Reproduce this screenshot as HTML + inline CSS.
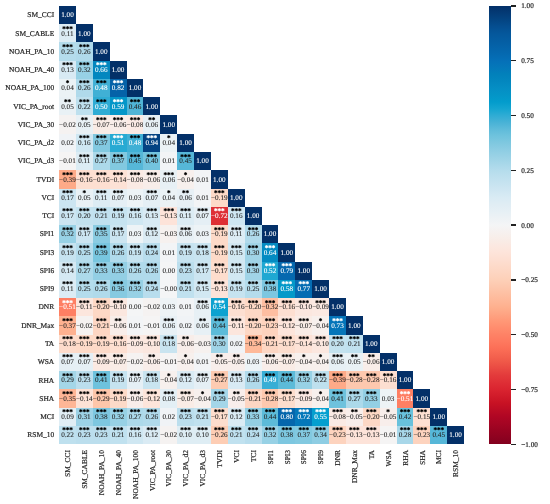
<!DOCTYPE html>
<html><head><meta charset="utf-8"><style>
html,body{margin:0;padding:0;background:#fff;}
body{width:550px;height:504px;position:relative;overflow:hidden;font-family:"Liberation Serif","Times New Roman",serif;text-rendering:geometricPrecision;-webkit-text-stroke:0.2px currentColor;}
.c{position:absolute;}
.n,.s{position:absolute;white-space:nowrap;text-align:center;line-height:1;}
.n{font-size:7.2px;-webkit-text-stroke:0.08px currentColor;}
.s{font-size:7.0px;color:#000;font-weight:normal;letter-spacing:0px;-webkit-text-stroke:0.4px currentColor;}
.w{color:#fff;}
.d{color:#262626;}
.yl{position:absolute;right:495.8px;font-size:7.45px;line-height:1;white-space:nowrap;color:#262626;}
.xl{position:absolute;font-size:7.45px;line-height:1;white-space:nowrap;color:#262626;transform-origin:0 0;transform:rotate(-90deg) translateX(-100%);}
.tk{position:absolute;height:1.3px;background:#222;}
.cl{position:absolute;font-size:7.2px;line-height:1;white-space:nowrap;color:#262626;}
</style></head><body>

<div class="c" style="left:59.000px;top:5.910px;width:16.875px;height:18.260px;background:#033068"></div>
<div class="n w" style="left:67.44px;top:15.84px;width:30px;margin-left:-15px;margin-top:-3.60px">1.00</div>
<div class="c" style="left:59.000px;top:24.170px;width:16.875px;height:18.260px;background:#dcecf4"></div>
<div class="n d" style="left:67.44px;top:34.10px;width:30px;margin-left:-15px;margin-top:-3.60px">0.11</div>
<div class="s" style="left:67.44px;top:29.20px;width:30px;margin-left:-15px;margin-top:-3.50px">***</div>
<div class="c" style="left:75.875px;top:24.170px;width:16.875px;height:18.260px;background:#033068"></div>
<div class="n w" style="left:84.31px;top:34.10px;width:30px;margin-left:-15px;margin-top:-3.60px">1.00</div>
<div class="c" style="left:59.000px;top:42.430px;width:16.875px;height:18.260px;background:#b4dcec"></div>
<div class="n d" style="left:67.44px;top:52.36px;width:30px;margin-left:-15px;margin-top:-3.60px">0.25</div>
<div class="s" style="left:67.44px;top:47.46px;width:30px;margin-left:-15px;margin-top:-3.50px">***</div>
<div class="c" style="left:75.875px;top:42.430px;width:16.875px;height:18.260px;background:#b0daeb"></div>
<div class="n d" style="left:84.31px;top:52.36px;width:30px;margin-left:-15px;margin-top:-3.60px">0.26</div>
<div class="s" style="left:84.31px;top:47.46px;width:30px;margin-left:-15px;margin-top:-3.50px">***</div>
<div class="c" style="left:92.750px;top:42.430px;width:16.875px;height:18.260px;background:#033068"></div>
<div class="n w" style="left:101.19px;top:52.36px;width:30px;margin-left:-15px;margin-top:-3.60px">1.00</div>
<div class="c" style="left:59.000px;top:60.690px;width:16.875px;height:18.260px;background:#d8eaf4"></div>
<div class="n d" style="left:67.44px;top:70.62px;width:30px;margin-left:-15px;margin-top:-3.60px">0.13</div>
<div class="s" style="left:67.44px;top:65.72px;width:30px;margin-left:-15px;margin-top:-3.50px">***</div>
<div class="c" style="left:75.875px;top:60.690px;width:16.875px;height:18.260px;background:#97d1e5"></div>
<div class="n d" style="left:84.31px;top:70.62px;width:30px;margin-left:-15px;margin-top:-3.60px">0.32</div>
<div class="s" style="left:84.31px;top:65.72px;width:30px;margin-left:-15px;margin-top:-3.50px">***</div>
<div class="c" style="left:92.750px;top:60.690px;width:16.875px;height:18.260px;background:#0387bf"></div>
<div class="n w" style="left:101.19px;top:70.62px;width:30px;margin-left:-15px;margin-top:-3.60px">0.66</div>
<div class="s w" style="left:101.19px;top:65.72px;width:30px;margin-left:-15px;margin-top:-3.50px">***</div>
<div class="c" style="left:109.625px;top:60.690px;width:16.875px;height:18.260px;background:#033068"></div>
<div class="n w" style="left:118.06px;top:70.62px;width:30px;margin-left:-15px;margin-top:-3.60px">1.00</div>
<div class="c" style="left:59.000px;top:78.950px;width:16.875px;height:18.260px;background:#ebf2f5"></div>
<div class="n d" style="left:67.44px;top:88.88px;width:30px;margin-left:-15px;margin-top:-3.60px">0.04</div>
<div class="s" style="left:67.44px;top:83.98px;width:30px;margin-left:-15px;margin-top:-3.50px">*</div>
<div class="c" style="left:75.875px;top:78.950px;width:16.875px;height:18.260px;background:#b0daeb"></div>
<div class="n d" style="left:84.31px;top:88.88px;width:30px;margin-left:-15px;margin-top:-3.60px">0.26</div>
<div class="s" style="left:84.31px;top:83.98px;width:30px;margin-left:-15px;margin-top:-3.50px">***</div>
<div class="c" style="left:92.750px;top:78.950px;width:16.875px;height:18.260px;background:#40b0d5"></div>
<div class="n w" style="left:101.19px;top:88.88px;width:30px;margin-left:-15px;margin-top:-3.60px">0.48</div>
<div class="s" style="left:101.19px;top:83.98px;width:30px;margin-left:-15px;margin-top:-3.50px">***</div>
<div class="c" style="left:109.625px;top:78.950px;width:16.875px;height:18.260px;background:#0562a8"></div>
<div class="n w" style="left:118.06px;top:88.88px;width:30px;margin-left:-15px;margin-top:-3.60px">0.82</div>
<div class="s w" style="left:118.06px;top:83.98px;width:30px;margin-left:-15px;margin-top:-3.50px">***</div>
<div class="c" style="left:126.500px;top:78.950px;width:16.875px;height:18.260px;background:#033068"></div>
<div class="n w" style="left:134.94px;top:88.88px;width:30px;margin-left:-15px;margin-top:-3.60px">1.00</div>
<div class="c" style="left:59.000px;top:97.210px;width:16.875px;height:18.260px;background:#e9f1f5"></div>
<div class="n d" style="left:67.44px;top:107.14px;width:30px;margin-left:-15px;margin-top:-3.60px">0.05</div>
<div class="s" style="left:67.44px;top:102.24px;width:30px;margin-left:-15px;margin-top:-3.50px">**</div>
<div class="c" style="left:75.875px;top:97.210px;width:16.875px;height:18.260px;background:#bee0ee"></div>
<div class="n d" style="left:84.31px;top:107.14px;width:30px;margin-left:-15px;margin-top:-3.60px">0.22</div>
<div class="s" style="left:84.31px;top:102.24px;width:30px;margin-left:-15px;margin-top:-3.50px">***</div>
<div class="c" style="left:92.750px;top:97.210px;width:16.875px;height:18.260px;background:#2facd4"></div>
<div class="n w" style="left:101.19px;top:107.14px;width:30px;margin-left:-15px;margin-top:-3.60px">0.50</div>
<div class="s" style="left:101.19px;top:102.24px;width:30px;margin-left:-15px;margin-top:-3.50px">***</div>
<div class="c" style="left:109.625px;top:97.210px;width:16.875px;height:18.260px;background:#0496c8"></div>
<div class="n w" style="left:118.06px;top:107.14px;width:30px;margin-left:-15px;margin-top:-3.60px">0.59</div>
<div class="s w" style="left:118.06px;top:102.24px;width:30px;margin-left:-15px;margin-top:-3.50px">***</div>
<div class="c" style="left:126.500px;top:97.210px;width:16.875px;height:18.260px;background:#50b4d6"></div>
<div class="n d" style="left:134.94px;top:107.14px;width:30px;margin-left:-15px;margin-top:-3.60px">0.46</div>
<div class="s" style="left:134.94px;top:102.24px;width:30px;margin-left:-15px;margin-top:-3.50px">***</div>
<div class="c" style="left:143.375px;top:97.210px;width:16.875px;height:18.260px;background:#033068"></div>
<div class="n w" style="left:151.81px;top:107.14px;width:30px;margin-left:-15px;margin-top:-3.60px">1.00</div>
<div class="c" style="left:59.000px;top:115.470px;width:16.875px;height:18.260px;background:#f5f2f1"></div>
<div class="n d" style="left:67.44px;top:125.40px;width:30px;margin-left:-15px;margin-top:-3.60px">−0.02</div>
<div class="c" style="left:75.875px;top:115.470px;width:16.875px;height:18.260px;background:#e9f1f5"></div>
<div class="n d" style="left:84.31px;top:125.40px;width:30px;margin-left:-15px;margin-top:-3.60px">0.05</div>
<div class="s" style="left:84.31px;top:120.50px;width:30px;margin-left:-15px;margin-top:-3.50px">**</div>
<div class="c" style="left:92.750px;top:115.470px;width:16.875px;height:18.260px;background:#f9ece6"></div>
<div class="n d" style="left:101.19px;top:125.40px;width:30px;margin-left:-15px;margin-top:-3.60px">−0.07</div>
<div class="s" style="left:101.19px;top:120.50px;width:30px;margin-left:-15px;margin-top:-3.50px">***</div>
<div class="c" style="left:109.625px;top:115.470px;width:16.875px;height:18.260px;background:#f8ede9"></div>
<div class="n d" style="left:118.06px;top:125.40px;width:30px;margin-left:-15px;margin-top:-3.60px">−0.06</div>
<div class="s" style="left:118.06px;top:120.50px;width:30px;margin-left:-15px;margin-top:-3.50px">***</div>
<div class="c" style="left:126.500px;top:115.470px;width:16.875px;height:18.260px;background:#faeae4"></div>
<div class="n d" style="left:134.94px;top:125.40px;width:30px;margin-left:-15px;margin-top:-3.60px">−0.08</div>
<div class="s" style="left:134.94px;top:120.50px;width:30px;margin-left:-15px;margin-top:-3.50px">***</div>
<div class="c" style="left:143.375px;top:115.470px;width:16.875px;height:18.260px;background:#e7f0f5"></div>
<div class="n d" style="left:151.81px;top:125.40px;width:30px;margin-left:-15px;margin-top:-3.60px">0.06</div>
<div class="s" style="left:151.81px;top:120.50px;width:30px;margin-left:-15px;margin-top:-3.50px">**</div>
<div class="c" style="left:160.250px;top:115.470px;width:16.875px;height:18.260px;background:#033068"></div>
<div class="n w" style="left:168.69px;top:125.40px;width:30px;margin-left:-15px;margin-top:-3.60px">1.00</div>
<div class="c" style="left:59.000px;top:133.730px;width:16.875px;height:18.260px;background:#f0f3f6"></div>
<div class="n d" style="left:67.44px;top:143.66px;width:30px;margin-left:-15px;margin-top:-3.60px">0.02</div>
<div class="c" style="left:75.875px;top:133.730px;width:16.875px;height:18.260px;background:#cfe7f2"></div>
<div class="n d" style="left:84.31px;top:143.66px;width:30px;margin-left:-15px;margin-top:-3.60px">0.16</div>
<div class="s" style="left:84.31px;top:138.76px;width:30px;margin-left:-15px;margin-top:-3.50px">***</div>
<div class="c" style="left:92.750px;top:133.730px;width:16.875px;height:18.260px;background:#82c9e0"></div>
<div class="n d" style="left:101.19px;top:143.66px;width:30px;margin-left:-15px;margin-top:-3.60px">0.37</div>
<div class="s" style="left:101.19px;top:138.76px;width:30px;margin-left:-15px;margin-top:-3.50px">***</div>
<div class="c" style="left:109.625px;top:133.730px;width:16.875px;height:18.260px;background:#27aad3"></div>
<div class="n w" style="left:118.06px;top:143.66px;width:30px;margin-left:-15px;margin-top:-3.60px">0.51</div>
<div class="s w" style="left:118.06px;top:138.76px;width:30px;margin-left:-15px;margin-top:-3.50px">***</div>
<div class="c" style="left:126.500px;top:133.730px;width:16.875px;height:18.260px;background:#40b0d5"></div>
<div class="n w" style="left:134.94px;top:143.66px;width:30px;margin-left:-15px;margin-top:-3.60px">0.48</div>
<div class="s" style="left:134.94px;top:138.76px;width:30px;margin-left:-15px;margin-top:-3.50px">***</div>
<div class="c" style="left:143.375px;top:133.730px;width:16.875px;height:18.260px;background:#044382"></div>
<div class="n w" style="left:151.81px;top:143.66px;width:30px;margin-left:-15px;margin-top:-3.60px">0.94</div>
<div class="s w" style="left:151.81px;top:138.76px;width:30px;margin-left:-15px;margin-top:-3.50px">***</div>
<div class="c" style="left:160.250px;top:133.730px;width:16.875px;height:18.260px;background:#ebf2f5"></div>
<div class="n d" style="left:168.69px;top:143.66px;width:30px;margin-left:-15px;margin-top:-3.60px">0.04</div>
<div class="s" style="left:168.69px;top:138.76px;width:30px;margin-left:-15px;margin-top:-3.50px">*</div>
<div class="c" style="left:177.125px;top:133.730px;width:16.875px;height:18.260px;background:#033068"></div>
<div class="n w" style="left:185.56px;top:143.66px;width:30px;margin-left:-15px;margin-top:-3.60px">1.00</div>
<div class="c" style="left:59.000px;top:151.990px;width:16.875px;height:18.260px;background:#f5f4f4"></div>
<div class="n d" style="left:67.44px;top:161.92px;width:30px;margin-left:-15px;margin-top:-3.60px">−0.01</div>
<div class="c" style="left:75.875px;top:151.990px;width:16.875px;height:18.260px;background:#dcecf4"></div>
<div class="n d" style="left:84.31px;top:161.92px;width:30px;margin-left:-15px;margin-top:-3.60px">0.11</div>
<div class="s" style="left:84.31px;top:157.02px;width:30px;margin-left:-15px;margin-top:-3.50px">***</div>
<div class="c" style="left:92.750px;top:151.990px;width:16.875px;height:18.260px;background:#acd9ea"></div>
<div class="n d" style="left:101.19px;top:161.92px;width:30px;margin-left:-15px;margin-top:-3.60px">0.27</div>
<div class="s" style="left:101.19px;top:157.02px;width:30px;margin-left:-15px;margin-top:-3.50px">***</div>
<div class="c" style="left:109.625px;top:151.990px;width:16.875px;height:18.260px;background:#82c9e0"></div>
<div class="n d" style="left:118.06px;top:161.92px;width:30px;margin-left:-15px;margin-top:-3.60px">0.37</div>
<div class="s" style="left:118.06px;top:157.02px;width:30px;margin-left:-15px;margin-top:-3.50px">***</div>
<div class="c" style="left:126.500px;top:151.990px;width:16.875px;height:18.260px;background:#56b7d8"></div>
<div class="n d" style="left:134.94px;top:161.92px;width:30px;margin-left:-15px;margin-top:-3.60px">0.45</div>
<div class="s" style="left:134.94px;top:157.02px;width:30px;margin-left:-15px;margin-top:-3.50px">***</div>
<div class="c" style="left:143.375px;top:151.990px;width:16.875px;height:18.260px;background:#73c4de"></div>
<div class="n d" style="left:151.81px;top:161.92px;width:30px;margin-left:-15px;margin-top:-3.60px">0.40</div>
<div class="s" style="left:151.81px;top:157.02px;width:30px;margin-left:-15px;margin-top:-3.50px">***</div>
<div class="c" style="left:160.250px;top:151.990px;width:16.875px;height:18.260px;background:#f2f4f6"></div>
<div class="n d" style="left:168.69px;top:161.92px;width:30px;margin-left:-15px;margin-top:-3.60px">0.01</div>
<div class="c" style="left:177.125px;top:151.990px;width:16.875px;height:18.260px;background:#56b7d8"></div>
<div class="n d" style="left:185.56px;top:161.92px;width:30px;margin-left:-15px;margin-top:-3.60px">0.45</div>
<div class="s" style="left:185.56px;top:157.02px;width:30px;margin-left:-15px;margin-top:-3.50px">***</div>
<div class="c" style="left:194.000px;top:151.990px;width:16.875px;height:18.260px;background:#033068"></div>
<div class="n w" style="left:202.44px;top:161.92px;width:30px;margin-left:-15px;margin-top:-3.60px">1.00</div>
<div class="c" style="left:59.000px;top:170.250px;width:16.875px;height:18.260px;background:#feaa88"></div>
<div class="n d" style="left:67.44px;top:180.18px;width:30px;margin-left:-15px;margin-top:-3.60px">−0.39</div>
<div class="s" style="left:67.44px;top:175.28px;width:30px;margin-left:-15px;margin-top:-3.50px">***</div>
<div class="c" style="left:75.875px;top:170.250px;width:16.875px;height:18.260px;background:#fddfd1"></div>
<div class="n d" style="left:84.31px;top:180.18px;width:30px;margin-left:-15px;margin-top:-3.60px">−0.16</div>
<div class="s" style="left:84.31px;top:175.28px;width:30px;margin-left:-15px;margin-top:-3.50px">***</div>
<div class="c" style="left:92.750px;top:170.250px;width:16.875px;height:18.260px;background:#fddfd1"></div>
<div class="n d" style="left:101.19px;top:180.18px;width:30px;margin-left:-15px;margin-top:-3.60px">−0.16</div>
<div class="s" style="left:101.19px;top:175.28px;width:30px;margin-left:-15px;margin-top:-3.50px">***</div>
<div class="c" style="left:109.625px;top:170.250px;width:16.875px;height:18.260px;background:#fde2d6"></div>
<div class="n d" style="left:118.06px;top:180.18px;width:30px;margin-left:-15px;margin-top:-3.60px">−0.14</div>
<div class="s" style="left:118.06px;top:175.28px;width:30px;margin-left:-15px;margin-top:-3.50px">***</div>
<div class="c" style="left:126.500px;top:170.250px;width:16.875px;height:18.260px;background:#faeae4"></div>
<div class="n d" style="left:134.94px;top:180.18px;width:30px;margin-left:-15px;margin-top:-3.60px">−0.08</div>
<div class="s" style="left:134.94px;top:175.28px;width:30px;margin-left:-15px;margin-top:-3.50px">***</div>
<div class="c" style="left:143.375px;top:170.250px;width:16.875px;height:18.260px;background:#f8ede9"></div>
<div class="n d" style="left:151.81px;top:180.18px;width:30px;margin-left:-15px;margin-top:-3.60px">−0.06</div>
<div class="s" style="left:151.81px;top:175.28px;width:30px;margin-left:-15px;margin-top:-3.50px">***</div>
<div class="c" style="left:160.250px;top:170.250px;width:16.875px;height:18.260px;background:#e7f0f5"></div>
<div class="n d" style="left:168.69px;top:180.18px;width:30px;margin-left:-15px;margin-top:-3.60px">0.06</div>
<div class="s" style="left:168.69px;top:175.28px;width:30px;margin-left:-15px;margin-top:-3.50px">***</div>
<div class="c" style="left:177.125px;top:170.250px;width:16.875px;height:18.260px;background:#f7f0ed"></div>
<div class="n d" style="left:185.56px;top:180.18px;width:30px;margin-left:-15px;margin-top:-3.60px">−0.04</div>
<div class="s" style="left:185.56px;top:175.28px;width:30px;margin-left:-15px;margin-top:-3.50px">*</div>
<div class="c" style="left:194.000px;top:170.250px;width:16.875px;height:18.260px;background:#f2f4f6"></div>
<div class="n d" style="left:202.44px;top:180.18px;width:30px;margin-left:-15px;margin-top:-3.60px">0.01</div>
<div class="c" style="left:210.875px;top:170.250px;width:16.875px;height:18.260px;background:#033068"></div>
<div class="n w" style="left:219.31px;top:180.18px;width:30px;margin-left:-15px;margin-top:-3.60px">1.00</div>
<div class="c" style="left:59.000px;top:188.510px;width:16.875px;height:18.260px;background:#cce5f1"></div>
<div class="n d" style="left:67.44px;top:198.44px;width:30px;margin-left:-15px;margin-top:-3.60px">0.17</div>
<div class="s" style="left:67.44px;top:193.54px;width:30px;margin-left:-15px;margin-top:-3.50px">***</div>
<div class="c" style="left:75.875px;top:188.510px;width:16.875px;height:18.260px;background:#e9f1f5"></div>
<div class="n d" style="left:84.31px;top:198.44px;width:30px;margin-left:-15px;margin-top:-3.60px">0.05</div>
<div class="s" style="left:84.31px;top:193.54px;width:30px;margin-left:-15px;margin-top:-3.50px">*</div>
<div class="c" style="left:92.750px;top:188.510px;width:16.875px;height:18.260px;background:#dcecf4"></div>
<div class="n d" style="left:101.19px;top:198.44px;width:30px;margin-left:-15px;margin-top:-3.60px">0.11</div>
<div class="s" style="left:101.19px;top:193.54px;width:30px;margin-left:-15px;margin-top:-3.50px">***</div>
<div class="c" style="left:109.625px;top:188.510px;width:16.875px;height:18.260px;background:#e5eff5"></div>
<div class="n d" style="left:118.06px;top:198.44px;width:30px;margin-left:-15px;margin-top:-3.60px">0.07</div>
<div class="s" style="left:118.06px;top:193.54px;width:30px;margin-left:-15px;margin-top:-3.50px">***</div>
<div class="c" style="left:126.500px;top:188.510px;width:16.875px;height:18.260px;background:#edf3f6"></div>
<div class="n d" style="left:134.94px;top:198.44px;width:30px;margin-left:-15px;margin-top:-3.60px">0.03</div>
<div class="c" style="left:143.375px;top:188.510px;width:16.875px;height:18.260px;background:#e5eff5"></div>
<div class="n d" style="left:151.81px;top:198.44px;width:30px;margin-left:-15px;margin-top:-3.60px">0.07</div>
<div class="s" style="left:151.81px;top:193.54px;width:30px;margin-left:-15px;margin-top:-3.50px">***</div>
<div class="c" style="left:160.250px;top:188.510px;width:16.875px;height:18.260px;background:#ebf2f5"></div>
<div class="n d" style="left:168.69px;top:198.44px;width:30px;margin-left:-15px;margin-top:-3.60px">0.04</div>
<div class="s" style="left:168.69px;top:193.54px;width:30px;margin-left:-15px;margin-top:-3.50px">*</div>
<div class="c" style="left:177.125px;top:188.510px;width:16.875px;height:18.260px;background:#e7f0f5"></div>
<div class="n d" style="left:185.56px;top:198.44px;width:30px;margin-left:-15px;margin-top:-3.60px">0.06</div>
<div class="s" style="left:185.56px;top:193.54px;width:30px;margin-left:-15px;margin-top:-3.50px">**</div>
<div class="c" style="left:194.000px;top:188.510px;width:16.875px;height:18.260px;background:#f2f4f6"></div>
<div class="n d" style="left:202.44px;top:198.44px;width:30px;margin-left:-15px;margin-top:-3.60px">0.01</div>
<div class="c" style="left:210.875px;top:188.510px;width:16.875px;height:18.260px;background:#fddac8"></div>
<div class="n d" style="left:219.31px;top:198.44px;width:30px;margin-left:-15px;margin-top:-3.60px">−0.19</div>
<div class="s" style="left:219.31px;top:193.54px;width:30px;margin-left:-15px;margin-top:-3.50px">***</div>
<div class="c" style="left:227.750px;top:188.510px;width:16.875px;height:18.260px;background:#033068"></div>
<div class="n w" style="left:236.19px;top:198.44px;width:30px;margin-left:-15px;margin-top:-3.60px">1.00</div>
<div class="c" style="left:59.000px;top:206.770px;width:16.875px;height:18.260px;background:#cce5f1"></div>
<div class="n d" style="left:67.44px;top:216.70px;width:30px;margin-left:-15px;margin-top:-3.60px">0.17</div>
<div class="s" style="left:67.44px;top:211.80px;width:30px;margin-left:-15px;margin-top:-3.50px">***</div>
<div class="c" style="left:75.875px;top:206.770px;width:16.875px;height:18.260px;background:#c3e2ef"></div>
<div class="n d" style="left:84.31px;top:216.70px;width:30px;margin-left:-15px;margin-top:-3.60px">0.20</div>
<div class="s" style="left:84.31px;top:211.80px;width:30px;margin-left:-15px;margin-top:-3.50px">***</div>
<div class="c" style="left:92.750px;top:206.770px;width:16.875px;height:18.260px;background:#c0e1ef"></div>
<div class="n d" style="left:101.19px;top:216.70px;width:30px;margin-left:-15px;margin-top:-3.60px">0.21</div>
<div class="s" style="left:101.19px;top:211.80px;width:30px;margin-left:-15px;margin-top:-3.50px">***</div>
<div class="c" style="left:109.625px;top:206.770px;width:16.875px;height:18.260px;background:#c6e3f0"></div>
<div class="n d" style="left:118.06px;top:216.70px;width:30px;margin-left:-15px;margin-top:-3.60px">0.19</div>
<div class="s" style="left:118.06px;top:211.80px;width:30px;margin-left:-15px;margin-top:-3.50px">***</div>
<div class="c" style="left:126.500px;top:206.770px;width:16.875px;height:18.260px;background:#cfe7f2"></div>
<div class="n d" style="left:134.94px;top:216.70px;width:30px;margin-left:-15px;margin-top:-3.60px">0.16</div>
<div class="s" style="left:134.94px;top:211.80px;width:30px;margin-left:-15px;margin-top:-3.50px">***</div>
<div class="c" style="left:143.375px;top:206.770px;width:16.875px;height:18.260px;background:#d8eaf4"></div>
<div class="n d" style="left:151.81px;top:216.70px;width:30px;margin-left:-15px;margin-top:-3.60px">0.13</div>
<div class="s" style="left:151.81px;top:211.80px;width:30px;margin-left:-15px;margin-top:-3.50px">***</div>
<div class="c" style="left:160.250px;top:206.770px;width:16.875px;height:18.260px;background:#fde3d9"></div>
<div class="n d" style="left:168.69px;top:216.70px;width:30px;margin-left:-15px;margin-top:-3.60px">−0.13</div>
<div class="s" style="left:168.69px;top:211.80px;width:30px;margin-left:-15px;margin-top:-3.50px">***</div>
<div class="c" style="left:177.125px;top:206.770px;width:16.875px;height:18.260px;background:#dcecf4"></div>
<div class="n d" style="left:185.56px;top:216.70px;width:30px;margin-left:-15px;margin-top:-3.60px">0.11</div>
<div class="s" style="left:185.56px;top:211.80px;width:30px;margin-left:-15px;margin-top:-3.50px">***</div>
<div class="c" style="left:194.000px;top:206.770px;width:16.875px;height:18.260px;background:#e5eff5"></div>
<div class="n d" style="left:202.44px;top:216.70px;width:30px;margin-left:-15px;margin-top:-3.60px">0.07</div>
<div class="s" style="left:202.44px;top:211.80px;width:30px;margin-left:-15px;margin-top:-3.50px">***</div>
<div class="c" style="left:210.875px;top:206.770px;width:16.875px;height:18.260px;background:#de2f35"></div>
<div class="n w" style="left:219.31px;top:216.70px;width:30px;margin-left:-15px;margin-top:-3.60px">−0.72</div>
<div class="s w" style="left:219.31px;top:211.80px;width:30px;margin-left:-15px;margin-top:-3.50px">***</div>
<div class="c" style="left:227.750px;top:206.770px;width:16.875px;height:18.260px;background:#cfe7f2"></div>
<div class="n d" style="left:236.19px;top:216.70px;width:30px;margin-left:-15px;margin-top:-3.60px">0.16</div>
<div class="s" style="left:236.19px;top:211.80px;width:30px;margin-left:-15px;margin-top:-3.50px">***</div>
<div class="c" style="left:244.625px;top:206.770px;width:16.875px;height:18.260px;background:#033068"></div>
<div class="n w" style="left:253.06px;top:216.70px;width:30px;margin-left:-15px;margin-top:-3.60px">1.00</div>
<div class="c" style="left:59.000px;top:225.030px;width:16.875px;height:18.260px;background:#97d1e5"></div>
<div class="n d" style="left:67.44px;top:234.96px;width:30px;margin-left:-15px;margin-top:-3.60px">0.32</div>
<div class="s" style="left:67.44px;top:230.06px;width:30px;margin-left:-15px;margin-top:-3.50px">***</div>
<div class="c" style="left:75.875px;top:225.030px;width:16.875px;height:18.260px;background:#cce5f1"></div>
<div class="n d" style="left:84.31px;top:234.96px;width:30px;margin-left:-15px;margin-top:-3.60px">0.17</div>
<div class="s" style="left:84.31px;top:230.06px;width:30px;margin-left:-15px;margin-top:-3.50px">***</div>
<div class="c" style="left:92.750px;top:225.030px;width:16.875px;height:18.260px;background:#8acce2"></div>
<div class="n d" style="left:101.19px;top:234.96px;width:30px;margin-left:-15px;margin-top:-3.60px">0.35</div>
<div class="s" style="left:101.19px;top:230.06px;width:30px;margin-left:-15px;margin-top:-3.50px">***</div>
<div class="c" style="left:109.625px;top:225.030px;width:16.875px;height:18.260px;background:#cce5f1"></div>
<div class="n d" style="left:118.06px;top:234.96px;width:30px;margin-left:-15px;margin-top:-3.60px">0.17</div>
<div class="s" style="left:118.06px;top:230.06px;width:30px;margin-left:-15px;margin-top:-3.50px">***</div>
<div class="c" style="left:126.500px;top:225.030px;width:16.875px;height:18.260px;background:#edf3f6"></div>
<div class="n d" style="left:134.94px;top:234.96px;width:30px;margin-left:-15px;margin-top:-3.60px">0.03</div>
<div class="c" style="left:143.375px;top:225.030px;width:16.875px;height:18.260px;background:#daebf4"></div>
<div class="n d" style="left:151.81px;top:234.96px;width:30px;margin-left:-15px;margin-top:-3.60px">0.12</div>
<div class="s" style="left:151.81px;top:230.06px;width:30px;margin-left:-15px;margin-top:-3.50px">***</div>
<div class="c" style="left:160.250px;top:225.030px;width:16.875px;height:18.260px;background:#f6f1ef"></div>
<div class="n d" style="left:168.69px;top:234.96px;width:30px;margin-left:-15px;margin-top:-3.60px">−0.03</div>
<div class="c" style="left:177.125px;top:225.030px;width:16.875px;height:18.260px;background:#e7f0f5"></div>
<div class="n d" style="left:185.56px;top:234.96px;width:30px;margin-left:-15px;margin-top:-3.60px">0.06</div>
<div class="s" style="left:185.56px;top:230.06px;width:30px;margin-left:-15px;margin-top:-3.50px">***</div>
<div class="c" style="left:194.000px;top:225.030px;width:16.875px;height:18.260px;background:#edf3f6"></div>
<div class="n d" style="left:202.44px;top:234.96px;width:30px;margin-left:-15px;margin-top:-3.60px">0.03</div>
<div class="c" style="left:210.875px;top:225.030px;width:16.875px;height:18.260px;background:#fddac8"></div>
<div class="n d" style="left:219.31px;top:234.96px;width:30px;margin-left:-15px;margin-top:-3.60px">−0.19</div>
<div class="s" style="left:219.31px;top:230.06px;width:30px;margin-left:-15px;margin-top:-3.50px">***</div>
<div class="c" style="left:227.750px;top:225.030px;width:16.875px;height:18.260px;background:#dcecf4"></div>
<div class="n d" style="left:236.19px;top:234.96px;width:30px;margin-left:-15px;margin-top:-3.60px">0.11</div>
<div class="s" style="left:236.19px;top:230.06px;width:30px;margin-left:-15px;margin-top:-3.50px">***</div>
<div class="c" style="left:244.625px;top:225.030px;width:16.875px;height:18.260px;background:#b0daeb"></div>
<div class="n d" style="left:253.06px;top:234.96px;width:30px;margin-left:-15px;margin-top:-3.60px">0.26</div>
<div class="s" style="left:253.06px;top:230.06px;width:30px;margin-left:-15px;margin-top:-3.50px">***</div>
<div class="c" style="left:261.500px;top:225.030px;width:16.875px;height:18.260px;background:#033068"></div>
<div class="n w" style="left:269.94px;top:234.96px;width:30px;margin-left:-15px;margin-top:-3.60px">1.00</div>
<div class="c" style="left:59.000px;top:243.290px;width:16.875px;height:18.260px;background:#c6e3f0"></div>
<div class="n d" style="left:67.44px;top:253.22px;width:30px;margin-left:-15px;margin-top:-3.60px">0.19</div>
<div class="s" style="left:67.44px;top:248.32px;width:30px;margin-left:-15px;margin-top:-3.50px">***</div>
<div class="c" style="left:75.875px;top:243.290px;width:16.875px;height:18.260px;background:#b4dcec"></div>
<div class="n d" style="left:84.31px;top:253.22px;width:30px;margin-left:-15px;margin-top:-3.60px">0.25</div>
<div class="s" style="left:84.31px;top:248.32px;width:30px;margin-left:-15px;margin-top:-3.50px">***</div>
<div class="c" style="left:92.750px;top:243.290px;width:16.875px;height:18.260px;background:#78c6df"></div>
<div class="n d" style="left:101.19px;top:253.22px;width:30px;margin-left:-15px;margin-top:-3.60px">0.39</div>
<div class="s" style="left:101.19px;top:248.32px;width:30px;margin-left:-15px;margin-top:-3.50px">***</div>
<div class="c" style="left:109.625px;top:243.290px;width:16.875px;height:18.260px;background:#b0daeb"></div>
<div class="n d" style="left:118.06px;top:253.22px;width:30px;margin-left:-15px;margin-top:-3.60px">0.26</div>
<div class="s" style="left:118.06px;top:248.32px;width:30px;margin-left:-15px;margin-top:-3.50px">***</div>
<div class="c" style="left:126.500px;top:243.290px;width:16.875px;height:18.260px;background:#c6e3f0"></div>
<div class="n d" style="left:134.94px;top:253.22px;width:30px;margin-left:-15px;margin-top:-3.60px">0.19</div>
<div class="s" style="left:134.94px;top:248.32px;width:30px;margin-left:-15px;margin-top:-3.50px">***</div>
<div class="c" style="left:143.375px;top:243.290px;width:16.875px;height:18.260px;background:#b8dded"></div>
<div class="n d" style="left:151.81px;top:253.22px;width:30px;margin-left:-15px;margin-top:-3.60px">0.24</div>
<div class="s" style="left:151.81px;top:248.32px;width:30px;margin-left:-15px;margin-top:-3.50px">***</div>
<div class="c" style="left:160.250px;top:243.290px;width:16.875px;height:18.260px;background:#f2f4f6"></div>
<div class="n d" style="left:168.69px;top:253.22px;width:30px;margin-left:-15px;margin-top:-3.60px">0.01</div>
<div class="c" style="left:177.125px;top:243.290px;width:16.875px;height:18.260px;background:#c6e3f0"></div>
<div class="n d" style="left:185.56px;top:253.22px;width:30px;margin-left:-15px;margin-top:-3.60px">0.19</div>
<div class="s" style="left:185.56px;top:248.32px;width:30px;margin-left:-15px;margin-top:-3.50px">***</div>
<div class="c" style="left:194.000px;top:243.290px;width:16.875px;height:18.260px;background:#c9e4f0"></div>
<div class="n d" style="left:202.44px;top:253.22px;width:30px;margin-left:-15px;margin-top:-3.60px">0.18</div>
<div class="s" style="left:202.44px;top:248.32px;width:30px;margin-left:-15px;margin-top:-3.50px">***</div>
<div class="c" style="left:210.875px;top:243.290px;width:16.875px;height:18.260px;background:#fddac8"></div>
<div class="n d" style="left:219.31px;top:253.22px;width:30px;margin-left:-15px;margin-top:-3.60px">−0.19</div>
<div class="s" style="left:219.31px;top:248.32px;width:30px;margin-left:-15px;margin-top:-3.50px">***</div>
<div class="c" style="left:227.750px;top:243.290px;width:16.875px;height:18.260px;background:#d2e8f2"></div>
<div class="n d" style="left:236.19px;top:253.22px;width:30px;margin-left:-15px;margin-top:-3.60px">0.15</div>
<div class="s" style="left:236.19px;top:248.32px;width:30px;margin-left:-15px;margin-top:-3.50px">***</div>
<div class="c" style="left:244.625px;top:243.290px;width:16.875px;height:18.260px;background:#a0d4e7"></div>
<div class="n d" style="left:253.06px;top:253.22px;width:30px;margin-left:-15px;margin-top:-3.60px">0.30</div>
<div class="s" style="left:253.06px;top:248.32px;width:30px;margin-left:-15px;margin-top:-3.50px">***</div>
<div class="c" style="left:261.500px;top:243.290px;width:16.875px;height:18.260px;background:#048bc2"></div>
<div class="n w" style="left:269.94px;top:253.22px;width:30px;margin-left:-15px;margin-top:-3.60px">0.64</div>
<div class="s w" style="left:269.94px;top:248.32px;width:30px;margin-left:-15px;margin-top:-3.50px">***</div>
<div class="c" style="left:278.375px;top:243.290px;width:16.875px;height:18.260px;background:#033068"></div>
<div class="n w" style="left:286.81px;top:253.22px;width:30px;margin-left:-15px;margin-top:-3.60px">1.00</div>
<div class="c" style="left:59.000px;top:261.550px;width:16.875px;height:18.260px;background:#d5e9f3"></div>
<div class="n d" style="left:67.44px;top:271.48px;width:30px;margin-left:-15px;margin-top:-3.60px">0.14</div>
<div class="s" style="left:67.44px;top:266.58px;width:30px;margin-left:-15px;margin-top:-3.50px">***</div>
<div class="c" style="left:75.875px;top:261.550px;width:16.875px;height:18.260px;background:#acd9ea"></div>
<div class="n d" style="left:84.31px;top:271.48px;width:30px;margin-left:-15px;margin-top:-3.60px">0.27</div>
<div class="s" style="left:84.31px;top:266.58px;width:30px;margin-left:-15px;margin-top:-3.50px">***</div>
<div class="c" style="left:92.750px;top:261.550px;width:16.875px;height:18.260px;background:#93cfe4"></div>
<div class="n d" style="left:101.19px;top:271.48px;width:30px;margin-left:-15px;margin-top:-3.60px">0.33</div>
<div class="s" style="left:101.19px;top:266.58px;width:30px;margin-left:-15px;margin-top:-3.50px">***</div>
<div class="c" style="left:109.625px;top:261.550px;width:16.875px;height:18.260px;background:#93cfe4"></div>
<div class="n d" style="left:118.06px;top:271.48px;width:30px;margin-left:-15px;margin-top:-3.60px">0.33</div>
<div class="s" style="left:118.06px;top:266.58px;width:30px;margin-left:-15px;margin-top:-3.50px">***</div>
<div class="c" style="left:126.500px;top:261.550px;width:16.875px;height:18.260px;background:#b0daeb"></div>
<div class="n d" style="left:134.94px;top:271.48px;width:30px;margin-left:-15px;margin-top:-3.60px">0.26</div>
<div class="s" style="left:134.94px;top:266.58px;width:30px;margin-left:-15px;margin-top:-3.50px">***</div>
<div class="c" style="left:143.375px;top:261.550px;width:16.875px;height:18.260px;background:#b0daeb"></div>
<div class="n d" style="left:151.81px;top:271.48px;width:30px;margin-left:-15px;margin-top:-3.60px">0.26</div>
<div class="s" style="left:151.81px;top:266.58px;width:30px;margin-left:-15px;margin-top:-3.50px">***</div>
<div class="c" style="left:160.250px;top:261.550px;width:16.875px;height:18.260px;background:#f4f5f6"></div>
<div class="n d" style="left:168.69px;top:271.48px;width:30px;margin-left:-15px;margin-top:-3.60px">0.00</div>
<div class="c" style="left:177.125px;top:261.550px;width:16.875px;height:18.260px;background:#bbdeed"></div>
<div class="n d" style="left:185.56px;top:271.48px;width:30px;margin-left:-15px;margin-top:-3.60px">0.23</div>
<div class="s" style="left:185.56px;top:266.58px;width:30px;margin-left:-15px;margin-top:-3.50px">***</div>
<div class="c" style="left:194.000px;top:261.550px;width:16.875px;height:18.260px;background:#cce5f1"></div>
<div class="n d" style="left:202.44px;top:271.48px;width:30px;margin-left:-15px;margin-top:-3.60px">0.17</div>
<div class="s" style="left:202.44px;top:266.58px;width:30px;margin-left:-15px;margin-top:-3.50px">***</div>
<div class="c" style="left:210.875px;top:261.550px;width:16.875px;height:18.260px;background:#fdddcd"></div>
<div class="n d" style="left:219.31px;top:271.48px;width:30px;margin-left:-15px;margin-top:-3.60px">−0.17</div>
<div class="s" style="left:219.31px;top:266.58px;width:30px;margin-left:-15px;margin-top:-3.50px">***</div>
<div class="c" style="left:227.750px;top:261.550px;width:16.875px;height:18.260px;background:#d2e8f2"></div>
<div class="n d" style="left:236.19px;top:271.48px;width:30px;margin-left:-15px;margin-top:-3.60px">0.15</div>
<div class="s" style="left:236.19px;top:266.58px;width:30px;margin-left:-15px;margin-top:-3.50px">***</div>
<div class="c" style="left:244.625px;top:261.550px;width:16.875px;height:18.260px;background:#a0d4e7"></div>
<div class="n d" style="left:253.06px;top:271.48px;width:30px;margin-left:-15px;margin-top:-3.60px">0.30</div>
<div class="s" style="left:253.06px;top:266.58px;width:30px;margin-left:-15px;margin-top:-3.50px">***</div>
<div class="c" style="left:261.500px;top:261.550px;width:16.875px;height:18.260px;background:#1fa8d2"></div>
<div class="n w" style="left:269.94px;top:271.48px;width:30px;margin-left:-15px;margin-top:-3.60px">0.52</div>
<div class="s w" style="left:269.94px;top:266.58px;width:30px;margin-left:-15px;margin-top:-3.50px">***</div>
<div class="c" style="left:278.375px;top:261.550px;width:16.875px;height:18.260px;background:#0568af"></div>
<div class="n w" style="left:286.81px;top:271.48px;width:30px;margin-left:-15px;margin-top:-3.60px">0.79</div>
<div class="s w" style="left:286.81px;top:266.58px;width:30px;margin-left:-15px;margin-top:-3.50px">***</div>
<div class="c" style="left:295.250px;top:261.550px;width:16.875px;height:18.260px;background:#033068"></div>
<div class="n w" style="left:303.69px;top:271.48px;width:30px;margin-left:-15px;margin-top:-3.60px">1.00</div>
<div class="c" style="left:59.000px;top:279.810px;width:16.875px;height:18.260px;background:#dcecf4"></div>
<div class="n d" style="left:67.44px;top:289.74px;width:30px;margin-left:-15px;margin-top:-3.60px">0.11</div>
<div class="s" style="left:67.44px;top:284.84px;width:30px;margin-left:-15px;margin-top:-3.50px">***</div>
<div class="c" style="left:75.875px;top:279.810px;width:16.875px;height:18.260px;background:#b4dcec"></div>
<div class="n d" style="left:84.31px;top:289.74px;width:30px;margin-left:-15px;margin-top:-3.60px">0.25</div>
<div class="s" style="left:84.31px;top:284.84px;width:30px;margin-left:-15px;margin-top:-3.50px">***</div>
<div class="c" style="left:92.750px;top:279.810px;width:16.875px;height:18.260px;background:#b0daeb"></div>
<div class="n d" style="left:101.19px;top:289.74px;width:30px;margin-left:-15px;margin-top:-3.60px">0.26</div>
<div class="s" style="left:101.19px;top:284.84px;width:30px;margin-left:-15px;margin-top:-3.50px">***</div>
<div class="c" style="left:109.625px;top:279.810px;width:16.875px;height:18.260px;background:#86cae1"></div>
<div class="n d" style="left:118.06px;top:289.74px;width:30px;margin-left:-15px;margin-top:-3.60px">0.36</div>
<div class="s" style="left:118.06px;top:284.84px;width:30px;margin-left:-15px;margin-top:-3.50px">***</div>
<div class="c" style="left:126.500px;top:279.810px;width:16.875px;height:18.260px;background:#97d1e5"></div>
<div class="n d" style="left:134.94px;top:289.74px;width:30px;margin-left:-15px;margin-top:-3.60px">0.32</div>
<div class="s" style="left:134.94px;top:284.84px;width:30px;margin-left:-15px;margin-top:-3.50px">***</div>
<div class="c" style="left:143.375px;top:279.810px;width:16.875px;height:18.260px;background:#b8dded"></div>
<div class="n d" style="left:151.81px;top:289.74px;width:30px;margin-left:-15px;margin-top:-3.60px">0.24</div>
<div class="s" style="left:151.81px;top:284.84px;width:30px;margin-left:-15px;margin-top:-3.50px">***</div>
<div class="c" style="left:160.250px;top:279.810px;width:16.875px;height:18.260px;background:#f4f5f6"></div>
<div class="n d" style="left:168.69px;top:289.74px;width:30px;margin-left:-15px;margin-top:-3.60px">−0.00</div>
<div class="c" style="left:177.125px;top:279.810px;width:16.875px;height:18.260px;background:#c0e1ef"></div>
<div class="n d" style="left:185.56px;top:289.74px;width:30px;margin-left:-15px;margin-top:-3.60px">0.21</div>
<div class="s" style="left:185.56px;top:284.84px;width:30px;margin-left:-15px;margin-top:-3.50px">***</div>
<div class="c" style="left:194.000px;top:279.810px;width:16.875px;height:18.260px;background:#d2e8f2"></div>
<div class="n d" style="left:202.44px;top:289.74px;width:30px;margin-left:-15px;margin-top:-3.60px">0.15</div>
<div class="s" style="left:202.44px;top:284.84px;width:30px;margin-left:-15px;margin-top:-3.50px">***</div>
<div class="c" style="left:210.875px;top:279.810px;width:16.875px;height:18.260px;background:#fde3d9"></div>
<div class="n d" style="left:219.31px;top:289.74px;width:30px;margin-left:-15px;margin-top:-3.60px">−0.13</div>
<div class="s" style="left:219.31px;top:284.84px;width:30px;margin-left:-15px;margin-top:-3.50px">***</div>
<div class="c" style="left:227.750px;top:279.810px;width:16.875px;height:18.260px;background:#c6e3f0"></div>
<div class="n d" style="left:236.19px;top:289.74px;width:30px;margin-left:-15px;margin-top:-3.60px">0.19</div>
<div class="s" style="left:236.19px;top:284.84px;width:30px;margin-left:-15px;margin-top:-3.50px">***</div>
<div class="c" style="left:244.625px;top:279.810px;width:16.875px;height:18.260px;background:#b4dcec"></div>
<div class="n d" style="left:253.06px;top:289.74px;width:30px;margin-left:-15px;margin-top:-3.60px">0.25</div>
<div class="s" style="left:253.06px;top:284.84px;width:30px;margin-left:-15px;margin-top:-3.50px">***</div>
<div class="c" style="left:261.500px;top:279.810px;width:16.875px;height:18.260px;background:#7dc7e0"></div>
<div class="n d" style="left:269.94px;top:289.74px;width:30px;margin-left:-15px;margin-top:-3.60px">0.38</div>
<div class="s" style="left:269.94px;top:284.84px;width:30px;margin-left:-15px;margin-top:-3.50px">***</div>
<div class="c" style="left:278.375px;top:279.810px;width:16.875px;height:18.260px;background:#0399c9"></div>
<div class="n w" style="left:286.81px;top:289.74px;width:30px;margin-left:-15px;margin-top:-3.60px">0.58</div>
<div class="s w" style="left:286.81px;top:284.84px;width:30px;margin-left:-15px;margin-top:-3.50px">***</div>
<div class="c" style="left:295.250px;top:279.810px;width:16.875px;height:18.260px;background:#056cb3"></div>
<div class="n w" style="left:303.69px;top:289.74px;width:30px;margin-left:-15px;margin-top:-3.60px">0.77</div>
<div class="s w" style="left:303.69px;top:284.84px;width:30px;margin-left:-15px;margin-top:-3.50px">***</div>
<div class="c" style="left:312.125px;top:279.810px;width:16.875px;height:18.260px;background:#033068"></div>
<div class="n w" style="left:320.56px;top:289.74px;width:30px;margin-left:-15px;margin-top:-3.60px">1.00</div>
<div class="c" style="left:59.000px;top:298.070px;width:16.875px;height:18.260px;background:#fe7f63"></div>
<div class="n w" style="left:67.44px;top:308.00px;width:30px;margin-left:-15px;margin-top:-3.60px">−0.51</div>
<div class="s w" style="left:67.44px;top:303.10px;width:30px;margin-left:-15px;margin-top:-3.50px">***</div>
<div class="c" style="left:75.875px;top:298.070px;width:16.875px;height:18.260px;background:#fce6dd"></div>
<div class="n d" style="left:84.31px;top:308.00px;width:30px;margin-left:-15px;margin-top:-3.60px">−0.11</div>
<div class="s" style="left:84.31px;top:303.10px;width:30px;margin-left:-15px;margin-top:-3.50px">***</div>
<div class="c" style="left:92.750px;top:298.070px;width:16.875px;height:18.260px;background:#fdd8c5"></div>
<div class="n d" style="left:101.19px;top:308.00px;width:30px;margin-left:-15px;margin-top:-3.60px">−0.20</div>
<div class="s" style="left:101.19px;top:303.10px;width:30px;margin-left:-15px;margin-top:-3.50px">***</div>
<div class="c" style="left:109.625px;top:298.070px;width:16.875px;height:18.260px;background:#fbe7df"></div>
<div class="n d" style="left:118.06px;top:308.00px;width:30px;margin-left:-15px;margin-top:-3.60px">−0.10</div>
<div class="s" style="left:118.06px;top:303.10px;width:30px;margin-left:-15px;margin-top:-3.50px">***</div>
<div class="c" style="left:126.500px;top:298.070px;width:16.875px;height:18.260px;background:#f4f5f6"></div>
<div class="n d" style="left:134.94px;top:308.00px;width:30px;margin-left:-15px;margin-top:-3.60px">0.00</div>
<div class="c" style="left:143.375px;top:298.070px;width:16.875px;height:18.260px;background:#f5f2f1"></div>
<div class="n d" style="left:151.81px;top:308.00px;width:30px;margin-left:-15px;margin-top:-3.60px">−0.02</div>
<div class="c" style="left:160.250px;top:298.070px;width:16.875px;height:18.260px;background:#edf3f6"></div>
<div class="n d" style="left:168.69px;top:308.00px;width:30px;margin-left:-15px;margin-top:-3.60px">0.03</div>
<div class="c" style="left:177.125px;top:298.070px;width:16.875px;height:18.260px;background:#f2f4f6"></div>
<div class="n d" style="left:185.56px;top:308.00px;width:30px;margin-left:-15px;margin-top:-3.60px">0.01</div>
<div class="c" style="left:194.000px;top:298.070px;width:16.875px;height:18.260px;background:#e7f0f5"></div>
<div class="n d" style="left:202.44px;top:308.00px;width:30px;margin-left:-15px;margin-top:-3.60px">0.06</div>
<div class="s" style="left:202.44px;top:303.10px;width:30px;margin-left:-15px;margin-top:-3.50px">***</div>
<div class="c" style="left:210.875px;top:298.070px;width:16.875px;height:18.260px;background:#0ca2d0"></div>
<div class="n w" style="left:219.31px;top:308.00px;width:30px;margin-left:-15px;margin-top:-3.60px">0.54</div>
<div class="s w" style="left:219.31px;top:303.10px;width:30px;margin-left:-15px;margin-top:-3.50px">***</div>
<div class="c" style="left:227.750px;top:298.070px;width:16.875px;height:18.260px;background:#fddfd1"></div>
<div class="n d" style="left:236.19px;top:308.00px;width:30px;margin-left:-15px;margin-top:-3.60px">−0.16</div>
<div class="s" style="left:236.19px;top:303.10px;width:30px;margin-left:-15px;margin-top:-3.50px">***</div>
<div class="c" style="left:244.625px;top:298.070px;width:16.875px;height:18.260px;background:#fdd8c5"></div>
<div class="n d" style="left:253.06px;top:308.00px;width:30px;margin-left:-15px;margin-top:-3.60px">−0.20</div>
<div class="s" style="left:253.06px;top:303.10px;width:30px;margin-left:-15px;margin-top:-3.50px">***</div>
<div class="c" style="left:261.500px;top:298.070px;width:16.875px;height:18.260px;background:#febea1"></div>
<div class="n d" style="left:269.94px;top:308.00px;width:30px;margin-left:-15px;margin-top:-3.60px">−0.32</div>
<div class="s" style="left:269.94px;top:303.10px;width:30px;margin-left:-15px;margin-top:-3.50px">***</div>
<div class="c" style="left:278.375px;top:298.070px;width:16.875px;height:18.260px;background:#fddfd1"></div>
<div class="n d" style="left:286.81px;top:308.00px;width:30px;margin-left:-15px;margin-top:-3.60px">−0.16</div>
<div class="s" style="left:286.81px;top:303.10px;width:30px;margin-left:-15px;margin-top:-3.50px">***</div>
<div class="c" style="left:295.250px;top:298.070px;width:16.875px;height:18.260px;background:#fbe7df"></div>
<div class="n d" style="left:303.69px;top:308.00px;width:30px;margin-left:-15px;margin-top:-3.60px">−0.10</div>
<div class="s" style="left:303.69px;top:303.10px;width:30px;margin-left:-15px;margin-top:-3.50px">***</div>
<div class="c" style="left:312.125px;top:298.070px;width:16.875px;height:18.260px;background:#fbe9e2"></div>
<div class="n d" style="left:320.56px;top:308.00px;width:30px;margin-left:-15px;margin-top:-3.60px">−0.09</div>
<div class="s" style="left:320.56px;top:303.10px;width:30px;margin-left:-15px;margin-top:-3.50px">***</div>
<div class="c" style="left:329.000px;top:298.070px;width:16.875px;height:18.260px;background:#033068"></div>
<div class="n w" style="left:337.44px;top:308.00px;width:30px;margin-left:-15px;margin-top:-3.60px">1.00</div>
<div class="c" style="left:59.000px;top:316.330px;width:16.875px;height:18.260px;background:#feb190"></div>
<div class="n d" style="left:67.44px;top:326.26px;width:30px;margin-left:-15px;margin-top:-3.60px">−0.37</div>
<div class="s" style="left:67.44px;top:321.36px;width:30px;margin-left:-15px;margin-top:-3.50px">***</div>
<div class="c" style="left:75.875px;top:316.330px;width:16.875px;height:18.260px;background:#f5f2f1"></div>
<div class="n d" style="left:84.31px;top:326.26px;width:30px;margin-left:-15px;margin-top:-3.60px">−0.02</div>
<div class="c" style="left:92.750px;top:316.330px;width:16.875px;height:18.260px;background:#fdd6c3"></div>
<div class="n d" style="left:101.19px;top:326.26px;width:30px;margin-left:-15px;margin-top:-3.60px">−0.21</div>
<div class="s" style="left:101.19px;top:321.36px;width:30px;margin-left:-15px;margin-top:-3.50px">***</div>
<div class="c" style="left:109.625px;top:316.330px;width:16.875px;height:18.260px;background:#f8ede9"></div>
<div class="n d" style="left:118.06px;top:326.26px;width:30px;margin-left:-15px;margin-top:-3.60px">−0.06</div>
<div class="s" style="left:118.06px;top:321.36px;width:30px;margin-left:-15px;margin-top:-3.50px">**</div>
<div class="c" style="left:126.500px;top:316.330px;width:16.875px;height:18.260px;background:#f2f4f6"></div>
<div class="n d" style="left:134.94px;top:326.26px;width:30px;margin-left:-15px;margin-top:-3.60px">0.01</div>
<div class="c" style="left:143.375px;top:316.330px;width:16.875px;height:18.260px;background:#f5f4f4"></div>
<div class="n d" style="left:151.81px;top:326.26px;width:30px;margin-left:-15px;margin-top:-3.60px">−0.01</div>
<div class="c" style="left:160.250px;top:316.330px;width:16.875px;height:18.260px;background:#e7f0f5"></div>
<div class="n d" style="left:168.69px;top:326.26px;width:30px;margin-left:-15px;margin-top:-3.60px">0.06</div>
<div class="s" style="left:168.69px;top:321.36px;width:30px;margin-left:-15px;margin-top:-3.50px">***</div>
<div class="c" style="left:177.125px;top:316.330px;width:16.875px;height:18.260px;background:#f0f3f6"></div>
<div class="n d" style="left:185.56px;top:326.26px;width:30px;margin-left:-15px;margin-top:-3.60px">0.02</div>
<div class="c" style="left:194.000px;top:316.330px;width:16.875px;height:18.260px;background:#e7f0f5"></div>
<div class="n d" style="left:202.44px;top:326.26px;width:30px;margin-left:-15px;margin-top:-3.60px">0.06</div>
<div class="s" style="left:202.44px;top:321.36px;width:30px;margin-left:-15px;margin-top:-3.50px">**</div>
<div class="c" style="left:210.875px;top:316.330px;width:16.875px;height:18.260px;background:#5cbbd9"></div>
<div class="n d" style="left:219.31px;top:326.26px;width:30px;margin-left:-15px;margin-top:-3.60px">0.44</div>
<div class="s" style="left:219.31px;top:321.36px;width:30px;margin-left:-15px;margin-top:-3.50px">***</div>
<div class="c" style="left:227.750px;top:316.330px;width:16.875px;height:18.260px;background:#fce6dd"></div>
<div class="n d" style="left:236.19px;top:326.26px;width:30px;margin-left:-15px;margin-top:-3.60px">−0.11</div>
<div class="s" style="left:236.19px;top:321.36px;width:30px;margin-left:-15px;margin-top:-3.50px">***</div>
<div class="c" style="left:244.625px;top:316.330px;width:16.875px;height:18.260px;background:#fdd8c5"></div>
<div class="n d" style="left:253.06px;top:326.26px;width:30px;margin-left:-15px;margin-top:-3.60px">−0.20</div>
<div class="s" style="left:253.06px;top:321.36px;width:30px;margin-left:-15px;margin-top:-3.50px">***</div>
<div class="c" style="left:261.500px;top:316.330px;width:16.875px;height:18.260px;background:#fdd3be"></div>
<div class="n d" style="left:269.94px;top:326.26px;width:30px;margin-left:-15px;margin-top:-3.60px">−0.23</div>
<div class="s" style="left:269.94px;top:321.36px;width:30px;margin-left:-15px;margin-top:-3.50px">***</div>
<div class="c" style="left:278.375px;top:316.330px;width:16.875px;height:18.260px;background:#fde5db"></div>
<div class="n d" style="left:286.81px;top:326.26px;width:30px;margin-left:-15px;margin-top:-3.60px">−0.12</div>
<div class="s" style="left:286.81px;top:321.36px;width:30px;margin-left:-15px;margin-top:-3.50px">***</div>
<div class="c" style="left:295.250px;top:316.330px;width:16.875px;height:18.260px;background:#f9ece6"></div>
<div class="n d" style="left:303.69px;top:326.26px;width:30px;margin-left:-15px;margin-top:-3.60px">−0.07</div>
<div class="s" style="left:303.69px;top:321.36px;width:30px;margin-left:-15px;margin-top:-3.50px">***</div>
<div class="c" style="left:312.125px;top:316.330px;width:16.875px;height:18.260px;background:#f7f0ed"></div>
<div class="n d" style="left:320.56px;top:326.26px;width:30px;margin-left:-15px;margin-top:-3.60px">−0.04</div>
<div class="s" style="left:320.56px;top:321.36px;width:30px;margin-left:-15px;margin-top:-3.50px">*</div>
<div class="c" style="left:329.000px;top:316.330px;width:16.875px;height:18.260px;background:#0475b9"></div>
<div class="n w" style="left:337.44px;top:326.26px;width:30px;margin-left:-15px;margin-top:-3.60px">0.73</div>
<div class="s w" style="left:337.44px;top:321.36px;width:30px;margin-left:-15px;margin-top:-3.50px">***</div>
<div class="c" style="left:345.875px;top:316.330px;width:16.875px;height:18.260px;background:#033068"></div>
<div class="n w" style="left:354.31px;top:326.26px;width:30px;margin-left:-15px;margin-top:-3.60px">1.00</div>
<div class="c" style="left:59.000px;top:334.590px;width:16.875px;height:18.260px;background:#fddbcb"></div>
<div class="n d" style="left:67.44px;top:344.52px;width:30px;margin-left:-15px;margin-top:-3.60px">−0.18</div>
<div class="s" style="left:67.44px;top:339.62px;width:30px;margin-left:-15px;margin-top:-3.50px">***</div>
<div class="c" style="left:75.875px;top:334.590px;width:16.875px;height:18.260px;background:#fddac8"></div>
<div class="n d" style="left:84.31px;top:344.52px;width:30px;margin-left:-15px;margin-top:-3.60px">−0.19</div>
<div class="s" style="left:84.31px;top:339.62px;width:30px;margin-left:-15px;margin-top:-3.50px">***</div>
<div class="c" style="left:92.750px;top:334.590px;width:16.875px;height:18.260px;background:#fddac8"></div>
<div class="n d" style="left:101.19px;top:344.52px;width:30px;margin-left:-15px;margin-top:-3.60px">−0.19</div>
<div class="s" style="left:101.19px;top:339.62px;width:30px;margin-left:-15px;margin-top:-3.50px">***</div>
<div class="c" style="left:109.625px;top:334.590px;width:16.875px;height:18.260px;background:#fddfd1"></div>
<div class="n d" style="left:118.06px;top:344.52px;width:30px;margin-left:-15px;margin-top:-3.60px">−0.16</div>
<div class="s" style="left:118.06px;top:339.62px;width:30px;margin-left:-15px;margin-top:-3.50px">***</div>
<div class="c" style="left:126.500px;top:334.590px;width:16.875px;height:18.260px;background:#fbe9e2"></div>
<div class="n d" style="left:134.94px;top:344.52px;width:30px;margin-left:-15px;margin-top:-3.60px">−0.09</div>
<div class="s" style="left:134.94px;top:339.62px;width:30px;margin-left:-15px;margin-top:-3.50px">***</div>
<div class="c" style="left:143.375px;top:334.590px;width:16.875px;height:18.260px;background:#fbe7df"></div>
<div class="n d" style="left:151.81px;top:344.52px;width:30px;margin-left:-15px;margin-top:-3.60px">−0.10</div>
<div class="s" style="left:151.81px;top:339.62px;width:30px;margin-left:-15px;margin-top:-3.50px">***</div>
<div class="c" style="left:160.250px;top:334.590px;width:16.875px;height:18.260px;background:#c9e4f0"></div>
<div class="n d" style="left:168.69px;top:344.52px;width:30px;margin-left:-15px;margin-top:-3.60px">0.18</div>
<div class="s" style="left:168.69px;top:339.62px;width:30px;margin-left:-15px;margin-top:-3.50px">***</div>
<div class="c" style="left:177.125px;top:334.590px;width:16.875px;height:18.260px;background:#f8ede9"></div>
<div class="n d" style="left:185.56px;top:344.52px;width:30px;margin-left:-15px;margin-top:-3.60px">−0.06</div>
<div class="s" style="left:185.56px;top:339.62px;width:30px;margin-left:-15px;margin-top:-3.50px">**</div>
<div class="c" style="left:194.000px;top:334.590px;width:16.875px;height:18.260px;background:#f6f1ef"></div>
<div class="n d" style="left:202.44px;top:344.52px;width:30px;margin-left:-15px;margin-top:-3.60px">−0.03</div>
<div class="c" style="left:210.875px;top:334.590px;width:16.875px;height:18.260px;background:#a0d4e7"></div>
<div class="n d" style="left:219.31px;top:344.52px;width:30px;margin-left:-15px;margin-top:-3.60px">0.30</div>
<div class="s" style="left:219.31px;top:339.62px;width:30px;margin-left:-15px;margin-top:-3.50px">***</div>
<div class="c" style="left:227.750px;top:334.590px;width:16.875px;height:18.260px;background:#f0f3f6"></div>
<div class="n d" style="left:236.19px;top:344.52px;width:30px;margin-left:-15px;margin-top:-3.60px">0.02</div>
<div class="c" style="left:244.625px;top:334.590px;width:16.875px;height:18.260px;background:#feb999"></div>
<div class="n d" style="left:253.06px;top:344.52px;width:30px;margin-left:-15px;margin-top:-3.60px">−0.34</div>
<div class="s" style="left:253.06px;top:339.62px;width:30px;margin-left:-15px;margin-top:-3.50px">***</div>
<div class="c" style="left:261.500px;top:334.590px;width:16.875px;height:18.260px;background:#fdd6c3"></div>
<div class="n d" style="left:269.94px;top:344.52px;width:30px;margin-left:-15px;margin-top:-3.60px">−0.21</div>
<div class="s" style="left:269.94px;top:339.62px;width:30px;margin-left:-15px;margin-top:-3.50px">***</div>
<div class="c" style="left:278.375px;top:334.590px;width:16.875px;height:18.260px;background:#fdddcd"></div>
<div class="n d" style="left:286.81px;top:344.52px;width:30px;margin-left:-15px;margin-top:-3.60px">−0.17</div>
<div class="s" style="left:286.81px;top:339.62px;width:30px;margin-left:-15px;margin-top:-3.50px">***</div>
<div class="c" style="left:295.250px;top:334.590px;width:16.875px;height:18.260px;background:#fde2d6"></div>
<div class="n d" style="left:303.69px;top:344.52px;width:30px;margin-left:-15px;margin-top:-3.60px">−0.14</div>
<div class="s" style="left:303.69px;top:339.62px;width:30px;margin-left:-15px;margin-top:-3.50px">***</div>
<div class="c" style="left:312.125px;top:334.590px;width:16.875px;height:18.260px;background:#fbe7df"></div>
<div class="n d" style="left:320.56px;top:344.52px;width:30px;margin-left:-15px;margin-top:-3.60px">−0.10</div>
<div class="s" style="left:320.56px;top:339.62px;width:30px;margin-left:-15px;margin-top:-3.50px">***</div>
<div class="c" style="left:329.000px;top:334.590px;width:16.875px;height:18.260px;background:#c3e2ef"></div>
<div class="n d" style="left:337.44px;top:344.52px;width:30px;margin-left:-15px;margin-top:-3.60px">0.20</div>
<div class="s" style="left:337.44px;top:339.62px;width:30px;margin-left:-15px;margin-top:-3.50px">***</div>
<div class="c" style="left:345.875px;top:334.590px;width:16.875px;height:18.260px;background:#c0e1ef"></div>
<div class="n d" style="left:354.31px;top:344.52px;width:30px;margin-left:-15px;margin-top:-3.60px">0.21</div>
<div class="s" style="left:354.31px;top:339.62px;width:30px;margin-left:-15px;margin-top:-3.50px">***</div>
<div class="c" style="left:362.750px;top:334.590px;width:16.875px;height:18.260px;background:#033068"></div>
<div class="n w" style="left:371.19px;top:344.52px;width:30px;margin-left:-15px;margin-top:-3.60px">1.00</div>
<div class="c" style="left:59.000px;top:352.850px;width:16.875px;height:18.260px;background:#e5eff5"></div>
<div class="n d" style="left:67.44px;top:362.78px;width:30px;margin-left:-15px;margin-top:-3.60px">0.07</div>
<div class="s" style="left:67.44px;top:357.88px;width:30px;margin-left:-15px;margin-top:-3.50px">***</div>
<div class="c" style="left:75.875px;top:352.850px;width:16.875px;height:18.260px;background:#e5eff5"></div>
<div class="n d" style="left:84.31px;top:362.78px;width:30px;margin-left:-15px;margin-top:-3.60px">0.07</div>
<div class="s" style="left:84.31px;top:357.88px;width:30px;margin-left:-15px;margin-top:-3.50px">***</div>
<div class="c" style="left:92.750px;top:352.850px;width:16.875px;height:18.260px;background:#fbe9e2"></div>
<div class="n d" style="left:101.19px;top:362.78px;width:30px;margin-left:-15px;margin-top:-3.60px">−0.09</div>
<div class="s" style="left:101.19px;top:357.88px;width:30px;margin-left:-15px;margin-top:-3.50px">***</div>
<div class="c" style="left:109.625px;top:352.850px;width:16.875px;height:18.260px;background:#f9ece6"></div>
<div class="n d" style="left:118.06px;top:362.78px;width:30px;margin-left:-15px;margin-top:-3.60px">−0.07</div>
<div class="s" style="left:118.06px;top:357.88px;width:30px;margin-left:-15px;margin-top:-3.50px">***</div>
<div class="c" style="left:126.500px;top:352.850px;width:16.875px;height:18.260px;background:#f5f2f1"></div>
<div class="n d" style="left:134.94px;top:362.78px;width:30px;margin-left:-15px;margin-top:-3.60px">−0.02</div>
<div class="c" style="left:143.375px;top:352.850px;width:16.875px;height:18.260px;background:#f8ede9"></div>
<div class="n d" style="left:151.81px;top:362.78px;width:30px;margin-left:-15px;margin-top:-3.60px">−0.06</div>
<div class="s" style="left:151.81px;top:357.88px;width:30px;margin-left:-15px;margin-top:-3.50px">**</div>
<div class="c" style="left:160.250px;top:352.850px;width:16.875px;height:18.260px;background:#f5f4f4"></div>
<div class="n d" style="left:168.69px;top:362.78px;width:30px;margin-left:-15px;margin-top:-3.60px">−0.01</div>
<div class="c" style="left:177.125px;top:352.850px;width:16.875px;height:18.260px;background:#f7f0ed"></div>
<div class="n d" style="left:185.56px;top:362.78px;width:30px;margin-left:-15px;margin-top:-3.60px">−0.04</div>
<div class="s" style="left:185.56px;top:357.88px;width:30px;margin-left:-15px;margin-top:-3.50px">*</div>
<div class="c" style="left:194.000px;top:352.850px;width:16.875px;height:18.260px;background:#f2f4f6"></div>
<div class="n d" style="left:202.44px;top:362.78px;width:30px;margin-left:-15px;margin-top:-3.60px">0.01</div>
<div class="c" style="left:210.875px;top:352.850px;width:16.875px;height:18.260px;background:#f8eeeb"></div>
<div class="n d" style="left:219.31px;top:362.78px;width:30px;margin-left:-15px;margin-top:-3.60px">−0.05</div>
<div class="s" style="left:219.31px;top:357.88px;width:30px;margin-left:-15px;margin-top:-3.50px">**</div>
<div class="c" style="left:227.750px;top:352.850px;width:16.875px;height:18.260px;background:#f8eeeb"></div>
<div class="n d" style="left:236.19px;top:362.78px;width:30px;margin-left:-15px;margin-top:-3.60px">−0.05</div>
<div class="s" style="left:236.19px;top:357.88px;width:30px;margin-left:-15px;margin-top:-3.50px">**</div>
<div class="c" style="left:244.625px;top:352.850px;width:16.875px;height:18.260px;background:#edf3f6"></div>
<div class="n d" style="left:253.06px;top:362.78px;width:30px;margin-left:-15px;margin-top:-3.60px">0.03</div>
<div class="c" style="left:261.500px;top:352.850px;width:16.875px;height:18.260px;background:#f8ede9"></div>
<div class="n d" style="left:269.94px;top:362.78px;width:30px;margin-left:-15px;margin-top:-3.60px">−0.06</div>
<div class="s" style="left:269.94px;top:357.88px;width:30px;margin-left:-15px;margin-top:-3.50px">***</div>
<div class="c" style="left:278.375px;top:352.850px;width:16.875px;height:18.260px;background:#f9ece6"></div>
<div class="n d" style="left:286.81px;top:362.78px;width:30px;margin-left:-15px;margin-top:-3.60px">−0.07</div>
<div class="s" style="left:286.81px;top:357.88px;width:30px;margin-left:-15px;margin-top:-3.50px">***</div>
<div class="c" style="left:295.250px;top:352.850px;width:16.875px;height:18.260px;background:#f7f0ed"></div>
<div class="n d" style="left:303.69px;top:362.78px;width:30px;margin-left:-15px;margin-top:-3.60px">−0.04</div>
<div class="s" style="left:303.69px;top:357.88px;width:30px;margin-left:-15px;margin-top:-3.50px">*</div>
<div class="c" style="left:312.125px;top:352.850px;width:16.875px;height:18.260px;background:#f7f0ed"></div>
<div class="n d" style="left:320.56px;top:362.78px;width:30px;margin-left:-15px;margin-top:-3.60px">−0.04</div>
<div class="s" style="left:320.56px;top:357.88px;width:30px;margin-left:-15px;margin-top:-3.50px">*</div>
<div class="c" style="left:329.000px;top:352.850px;width:16.875px;height:18.260px;background:#e7f0f5"></div>
<div class="n d" style="left:337.44px;top:362.78px;width:30px;margin-left:-15px;margin-top:-3.60px">0.06</div>
<div class="s" style="left:337.44px;top:357.88px;width:30px;margin-left:-15px;margin-top:-3.50px">***</div>
<div class="c" style="left:345.875px;top:352.850px;width:16.875px;height:18.260px;background:#e9f1f5"></div>
<div class="n d" style="left:354.31px;top:362.78px;width:30px;margin-left:-15px;margin-top:-3.60px">0.05</div>
<div class="s" style="left:354.31px;top:357.88px;width:30px;margin-left:-15px;margin-top:-3.50px">**</div>
<div class="c" style="left:362.750px;top:352.850px;width:16.875px;height:18.260px;background:#f8ede9"></div>
<div class="n d" style="left:371.19px;top:362.78px;width:30px;margin-left:-15px;margin-top:-3.60px">−0.06</div>
<div class="s" style="left:371.19px;top:357.88px;width:30px;margin-left:-15px;margin-top:-3.50px">**</div>
<div class="c" style="left:379.625px;top:352.850px;width:16.875px;height:18.260px;background:#033068"></div>
<div class="n w" style="left:388.06px;top:362.78px;width:30px;margin-left:-15px;margin-top:-3.60px">1.00</div>
<div class="c" style="left:59.000px;top:371.110px;width:16.875px;height:18.260px;background:#a4d6e8"></div>
<div class="n d" style="left:67.44px;top:381.04px;width:30px;margin-left:-15px;margin-top:-3.60px">0.29</div>
<div class="s" style="left:67.44px;top:376.14px;width:30px;margin-left:-15px;margin-top:-3.50px">***</div>
<div class="c" style="left:75.875px;top:371.110px;width:16.875px;height:18.260px;background:#bbdeed"></div>
<div class="n d" style="left:84.31px;top:381.04px;width:30px;margin-left:-15px;margin-top:-3.60px">0.23</div>
<div class="s" style="left:84.31px;top:376.14px;width:30px;margin-left:-15px;margin-top:-3.50px">***</div>
<div class="c" style="left:92.750px;top:371.110px;width:16.875px;height:18.260px;background:#6ec2dd"></div>
<div class="n d" style="left:101.19px;top:381.04px;width:30px;margin-left:-15px;margin-top:-3.60px">0.41</div>
<div class="s" style="left:101.19px;top:376.14px;width:30px;margin-left:-15px;margin-top:-3.50px">***</div>
<div class="c" style="left:109.625px;top:371.110px;width:16.875px;height:18.260px;background:#c6e3f0"></div>
<div class="n d" style="left:118.06px;top:381.04px;width:30px;margin-left:-15px;margin-top:-3.60px">0.19</div>
<div class="s" style="left:118.06px;top:376.14px;width:30px;margin-left:-15px;margin-top:-3.50px">***</div>
<div class="c" style="left:126.500px;top:371.110px;width:16.875px;height:18.260px;background:#e5eff5"></div>
<div class="n d" style="left:134.94px;top:381.04px;width:30px;margin-left:-15px;margin-top:-3.60px">0.07</div>
<div class="s" style="left:134.94px;top:376.14px;width:30px;margin-left:-15px;margin-top:-3.50px">***</div>
<div class="c" style="left:143.375px;top:371.110px;width:16.875px;height:18.260px;background:#c9e4f0"></div>
<div class="n d" style="left:151.81px;top:381.04px;width:30px;margin-left:-15px;margin-top:-3.60px">0.18</div>
<div class="s" style="left:151.81px;top:376.14px;width:30px;margin-left:-15px;margin-top:-3.50px">***</div>
<div class="c" style="left:160.250px;top:371.110px;width:16.875px;height:18.260px;background:#f7f0ed"></div>
<div class="n d" style="left:168.69px;top:381.04px;width:30px;margin-left:-15px;margin-top:-3.60px">−0.04</div>
<div class="s" style="left:168.69px;top:376.14px;width:30px;margin-left:-15px;margin-top:-3.50px">*</div>
<div class="c" style="left:177.125px;top:371.110px;width:16.875px;height:18.260px;background:#daebf4"></div>
<div class="n d" style="left:185.56px;top:381.04px;width:30px;margin-left:-15px;margin-top:-3.60px">0.12</div>
<div class="s" style="left:185.56px;top:376.14px;width:30px;margin-left:-15px;margin-top:-3.50px">***</div>
<div class="c" style="left:194.000px;top:371.110px;width:16.875px;height:18.260px;background:#e5eff5"></div>
<div class="n d" style="left:202.44px;top:381.04px;width:30px;margin-left:-15px;margin-top:-3.60px">0.07</div>
<div class="s" style="left:202.44px;top:376.14px;width:30px;margin-left:-15px;margin-top:-3.50px">***</div>
<div class="c" style="left:210.875px;top:371.110px;width:16.875px;height:18.260px;background:#fdcbb1"></div>
<div class="n d" style="left:219.31px;top:381.04px;width:30px;margin-left:-15px;margin-top:-3.60px">−0.27</div>
<div class="s" style="left:219.31px;top:376.14px;width:30px;margin-left:-15px;margin-top:-3.50px">***</div>
<div class="c" style="left:227.750px;top:371.110px;width:16.875px;height:18.260px;background:#d8eaf4"></div>
<div class="n d" style="left:236.19px;top:381.04px;width:30px;margin-left:-15px;margin-top:-3.60px">0.13</div>
<div class="s" style="left:236.19px;top:376.14px;width:30px;margin-left:-15px;margin-top:-3.50px">***</div>
<div class="c" style="left:244.625px;top:371.110px;width:16.875px;height:18.260px;background:#b0daeb"></div>
<div class="n d" style="left:253.06px;top:381.04px;width:30px;margin-left:-15px;margin-top:-3.60px">0.26</div>
<div class="s" style="left:253.06px;top:376.14px;width:30px;margin-left:-15px;margin-top:-3.50px">***</div>
<div class="c" style="left:261.500px;top:371.110px;width:16.875px;height:18.260px;background:#38aed5"></div>
<div class="n w" style="left:269.94px;top:381.04px;width:30px;margin-left:-15px;margin-top:-3.60px">0.49</div>
<div class="s" style="left:269.94px;top:376.14px;width:30px;margin-left:-15px;margin-top:-3.50px">***</div>
<div class="c" style="left:278.375px;top:371.110px;width:16.875px;height:18.260px;background:#5cbbd9"></div>
<div class="n d" style="left:286.81px;top:381.04px;width:30px;margin-left:-15px;margin-top:-3.60px">0.44</div>
<div class="s" style="left:286.81px;top:376.14px;width:30px;margin-left:-15px;margin-top:-3.50px">***</div>
<div class="c" style="left:295.250px;top:371.110px;width:16.875px;height:18.260px;background:#97d1e5"></div>
<div class="n d" style="left:303.69px;top:381.04px;width:30px;margin-left:-15px;margin-top:-3.60px">0.32</div>
<div class="s" style="left:303.69px;top:376.14px;width:30px;margin-left:-15px;margin-top:-3.50px">***</div>
<div class="c" style="left:312.125px;top:371.110px;width:16.875px;height:18.260px;background:#bee0ee"></div>
<div class="n d" style="left:320.56px;top:381.04px;width:30px;margin-left:-15px;margin-top:-3.60px">0.22</div>
<div class="s" style="left:320.56px;top:376.14px;width:30px;margin-left:-15px;margin-top:-3.50px">***</div>
<div class="c" style="left:329.000px;top:371.110px;width:16.875px;height:18.260px;background:#feaa88"></div>
<div class="n d" style="left:337.44px;top:381.04px;width:30px;margin-left:-15px;margin-top:-3.60px">−0.39</div>
<div class="s" style="left:337.44px;top:376.14px;width:30px;margin-left:-15px;margin-top:-3.50px">***</div>
<div class="c" style="left:345.875px;top:371.110px;width:16.875px;height:18.260px;background:#fdc8ae"></div>
<div class="n d" style="left:354.31px;top:381.04px;width:30px;margin-left:-15px;margin-top:-3.60px">−0.28</div>
<div class="s" style="left:354.31px;top:376.14px;width:30px;margin-left:-15px;margin-top:-3.50px">***</div>
<div class="c" style="left:362.750px;top:371.110px;width:16.875px;height:18.260px;background:#fdc8ae"></div>
<div class="n d" style="left:371.19px;top:381.04px;width:30px;margin-left:-15px;margin-top:-3.60px">−0.28</div>
<div class="s" style="left:371.19px;top:376.14px;width:30px;margin-left:-15px;margin-top:-3.50px">***</div>
<div class="c" style="left:379.625px;top:371.110px;width:16.875px;height:18.260px;background:#fddfd1"></div>
<div class="n d" style="left:388.06px;top:381.04px;width:30px;margin-left:-15px;margin-top:-3.60px">−0.16</div>
<div class="s" style="left:388.06px;top:376.14px;width:30px;margin-left:-15px;margin-top:-3.50px">***</div>
<div class="c" style="left:396.500px;top:371.110px;width:16.875px;height:18.260px;background:#033068"></div>
<div class="n w" style="left:404.94px;top:381.04px;width:30px;margin-left:-15px;margin-top:-3.60px">1.00</div>
<div class="c" style="left:59.000px;top:389.370px;width:16.875px;height:18.260px;background:#feb696"></div>
<div class="n d" style="left:67.44px;top:399.30px;width:30px;margin-left:-15px;margin-top:-3.60px">−0.35</div>
<div class="s" style="left:67.44px;top:394.40px;width:30px;margin-left:-15px;margin-top:-3.50px">***</div>
<div class="c" style="left:75.875px;top:389.370px;width:16.875px;height:18.260px;background:#fde2d6"></div>
<div class="n d" style="left:84.31px;top:399.30px;width:30px;margin-left:-15px;margin-top:-3.60px">−0.14</div>
<div class="s" style="left:84.31px;top:394.40px;width:30px;margin-left:-15px;margin-top:-3.50px">***</div>
<div class="c" style="left:92.750px;top:389.370px;width:16.875px;height:18.260px;background:#fdc6aa"></div>
<div class="n d" style="left:101.19px;top:399.30px;width:30px;margin-left:-15px;margin-top:-3.60px">−0.29</div>
<div class="s" style="left:101.19px;top:394.40px;width:30px;margin-left:-15px;margin-top:-3.50px">***</div>
<div class="c" style="left:109.625px;top:389.370px;width:16.875px;height:18.260px;background:#fddac8"></div>
<div class="n d" style="left:118.06px;top:399.30px;width:30px;margin-left:-15px;margin-top:-3.60px">−0.19</div>
<div class="s" style="left:118.06px;top:394.40px;width:30px;margin-left:-15px;margin-top:-3.50px">***</div>
<div class="c" style="left:126.500px;top:389.370px;width:16.875px;height:18.260px;background:#f8ede9"></div>
<div class="n d" style="left:134.94px;top:399.30px;width:30px;margin-left:-15px;margin-top:-3.60px">−0.06</div>
<div class="s" style="left:134.94px;top:394.40px;width:30px;margin-left:-15px;margin-top:-3.50px">***</div>
<div class="c" style="left:143.375px;top:389.370px;width:16.875px;height:18.260px;background:#fde5db"></div>
<div class="n d" style="left:151.81px;top:399.30px;width:30px;margin-left:-15px;margin-top:-3.60px">−0.12</div>
<div class="s" style="left:151.81px;top:394.40px;width:30px;margin-left:-15px;margin-top:-3.50px">***</div>
<div class="c" style="left:160.250px;top:389.370px;width:16.875px;height:18.260px;background:#e3eff5"></div>
<div class="n d" style="left:168.69px;top:399.30px;width:30px;margin-left:-15px;margin-top:-3.60px">0.08</div>
<div class="s" style="left:168.69px;top:394.40px;width:30px;margin-left:-15px;margin-top:-3.50px">***</div>
<div class="c" style="left:177.125px;top:389.370px;width:16.875px;height:18.260px;background:#f9ece6"></div>
<div class="n d" style="left:185.56px;top:399.30px;width:30px;margin-left:-15px;margin-top:-3.60px">−0.07</div>
<div class="s" style="left:185.56px;top:394.40px;width:30px;margin-left:-15px;margin-top:-3.50px">***</div>
<div class="c" style="left:194.000px;top:389.370px;width:16.875px;height:18.260px;background:#f7f0ed"></div>
<div class="n d" style="left:202.44px;top:399.30px;width:30px;margin-left:-15px;margin-top:-3.60px">−0.04</div>
<div class="s" style="left:202.44px;top:394.40px;width:30px;margin-left:-15px;margin-top:-3.50px">*</div>
<div class="c" style="left:210.875px;top:389.370px;width:16.875px;height:18.260px;background:#a4d6e8"></div>
<div class="n d" style="left:219.31px;top:399.30px;width:30px;margin-left:-15px;margin-top:-3.60px">0.29</div>
<div class="s" style="left:219.31px;top:394.40px;width:30px;margin-left:-15px;margin-top:-3.50px">***</div>
<div class="c" style="left:227.750px;top:389.370px;width:16.875px;height:18.260px;background:#f8eeeb"></div>
<div class="n d" style="left:236.19px;top:399.30px;width:30px;margin-left:-15px;margin-top:-3.60px">−0.05</div>
<div class="s" style="left:236.19px;top:394.40px;width:30px;margin-left:-15px;margin-top:-3.50px">**</div>
<div class="c" style="left:244.625px;top:389.370px;width:16.875px;height:18.260px;background:#fdd6c3"></div>
<div class="n d" style="left:253.06px;top:399.30px;width:30px;margin-left:-15px;margin-top:-3.60px">−0.21</div>
<div class="s" style="left:253.06px;top:394.40px;width:30px;margin-left:-15px;margin-top:-3.50px">***</div>
<div class="c" style="left:261.500px;top:389.370px;width:16.875px;height:18.260px;background:#fdc8ae"></div>
<div class="n d" style="left:269.94px;top:399.30px;width:30px;margin-left:-15px;margin-top:-3.60px">−0.28</div>
<div class="s" style="left:269.94px;top:394.40px;width:30px;margin-left:-15px;margin-top:-3.50px">***</div>
<div class="c" style="left:278.375px;top:389.370px;width:16.875px;height:18.260px;background:#fdddcd"></div>
<div class="n d" style="left:286.81px;top:399.30px;width:30px;margin-left:-15px;margin-top:-3.60px">−0.17</div>
<div class="s" style="left:286.81px;top:394.40px;width:30px;margin-left:-15px;margin-top:-3.50px">***</div>
<div class="c" style="left:295.250px;top:389.370px;width:16.875px;height:18.260px;background:#fbe9e2"></div>
<div class="n d" style="left:303.69px;top:399.30px;width:30px;margin-left:-15px;margin-top:-3.60px">−0.09</div>
<div class="s" style="left:303.69px;top:394.40px;width:30px;margin-left:-15px;margin-top:-3.50px">***</div>
<div class="c" style="left:312.125px;top:389.370px;width:16.875px;height:18.260px;background:#f7f0ed"></div>
<div class="n d" style="left:320.56px;top:399.30px;width:30px;margin-left:-15px;margin-top:-3.60px">−0.04</div>
<div class="s" style="left:320.56px;top:394.40px;width:30px;margin-left:-15px;margin-top:-3.50px">*</div>
<div class="c" style="left:329.000px;top:389.370px;width:16.875px;height:18.260px;background:#6ec2dd"></div>
<div class="n d" style="left:337.44px;top:399.30px;width:30px;margin-left:-15px;margin-top:-3.60px">0.41</div>
<div class="s" style="left:337.44px;top:394.40px;width:30px;margin-left:-15px;margin-top:-3.50px">***</div>
<div class="c" style="left:345.875px;top:389.370px;width:16.875px;height:18.260px;background:#acd9ea"></div>
<div class="n d" style="left:354.31px;top:399.30px;width:30px;margin-left:-15px;margin-top:-3.60px">0.27</div>
<div class="s" style="left:354.31px;top:394.40px;width:30px;margin-left:-15px;margin-top:-3.50px">***</div>
<div class="c" style="left:362.750px;top:389.370px;width:16.875px;height:18.260px;background:#93cfe4"></div>
<div class="n d" style="left:371.19px;top:399.30px;width:30px;margin-left:-15px;margin-top:-3.60px">0.33</div>
<div class="s" style="left:371.19px;top:394.40px;width:30px;margin-left:-15px;margin-top:-3.50px">***</div>
<div class="c" style="left:379.625px;top:389.370px;width:16.875px;height:18.260px;background:#edf3f6"></div>
<div class="n d" style="left:388.06px;top:399.30px;width:30px;margin-left:-15px;margin-top:-3.60px">0.03</div>
<div class="c" style="left:396.500px;top:389.370px;width:16.875px;height:18.260px;background:#fe7f63"></div>
<div class="n w" style="left:404.94px;top:399.30px;width:30px;margin-left:-15px;margin-top:-3.60px">−0.51</div>
<div class="s w" style="left:404.94px;top:394.40px;width:30px;margin-left:-15px;margin-top:-3.50px">***</div>
<div class="c" style="left:413.375px;top:389.370px;width:16.875px;height:18.260px;background:#033068"></div>
<div class="n w" style="left:421.81px;top:399.30px;width:30px;margin-left:-15px;margin-top:-3.60px">1.00</div>
<div class="c" style="left:59.000px;top:407.630px;width:16.875px;height:18.260px;background:#e0eef5"></div>
<div class="n d" style="left:67.44px;top:417.56px;width:30px;margin-left:-15px;margin-top:-3.60px">0.09</div>
<div class="s" style="left:67.44px;top:412.66px;width:30px;margin-left:-15px;margin-top:-3.50px">***</div>
<div class="c" style="left:75.875px;top:407.630px;width:16.875px;height:18.260px;background:#9cd2e6"></div>
<div class="n d" style="left:84.31px;top:417.56px;width:30px;margin-left:-15px;margin-top:-3.60px">0.31</div>
<div class="s" style="left:84.31px;top:412.66px;width:30px;margin-left:-15px;margin-top:-3.50px">***</div>
<div class="c" style="left:92.750px;top:407.630px;width:16.875px;height:18.260px;background:#7dc7e0"></div>
<div class="n d" style="left:101.19px;top:417.56px;width:30px;margin-left:-15px;margin-top:-3.60px">0.38</div>
<div class="s" style="left:101.19px;top:412.66px;width:30px;margin-left:-15px;margin-top:-3.50px">***</div>
<div class="c" style="left:109.625px;top:407.630px;width:16.875px;height:18.260px;background:#97d1e5"></div>
<div class="n d" style="left:118.06px;top:417.56px;width:30px;margin-left:-15px;margin-top:-3.60px">0.32</div>
<div class="s" style="left:118.06px;top:412.66px;width:30px;margin-left:-15px;margin-top:-3.50px">***</div>
<div class="c" style="left:126.500px;top:407.630px;width:16.875px;height:18.260px;background:#acd9ea"></div>
<div class="n d" style="left:134.94px;top:417.56px;width:30px;margin-left:-15px;margin-top:-3.60px">0.27</div>
<div class="s" style="left:134.94px;top:412.66px;width:30px;margin-left:-15px;margin-top:-3.50px">***</div>
<div class="c" style="left:143.375px;top:407.630px;width:16.875px;height:18.260px;background:#b0daeb"></div>
<div class="n d" style="left:151.81px;top:417.56px;width:30px;margin-left:-15px;margin-top:-3.60px">0.26</div>
<div class="s" style="left:151.81px;top:412.66px;width:30px;margin-left:-15px;margin-top:-3.50px">***</div>
<div class="c" style="left:160.250px;top:407.630px;width:16.875px;height:18.260px;background:#f0f3f6"></div>
<div class="n d" style="left:168.69px;top:417.56px;width:30px;margin-left:-15px;margin-top:-3.60px">0.02</div>
<div class="c" style="left:177.125px;top:407.630px;width:16.875px;height:18.260px;background:#bbdeed"></div>
<div class="n d" style="left:185.56px;top:417.56px;width:30px;margin-left:-15px;margin-top:-3.60px">0.23</div>
<div class="s" style="left:185.56px;top:412.66px;width:30px;margin-left:-15px;margin-top:-3.50px">***</div>
<div class="c" style="left:194.000px;top:407.630px;width:16.875px;height:18.260px;background:#c0e1ef"></div>
<div class="n d" style="left:202.44px;top:417.56px;width:30px;margin-left:-15px;margin-top:-3.60px">0.21</div>
<div class="s" style="left:202.44px;top:412.66px;width:30px;margin-left:-15px;margin-top:-3.50px">***</div>
<div class="c" style="left:210.875px;top:407.630px;width:16.875px;height:18.260px;background:#fdddcd"></div>
<div class="n d" style="left:219.31px;top:417.56px;width:30px;margin-left:-15px;margin-top:-3.60px">−0.17</div>
<div class="s" style="left:219.31px;top:412.66px;width:30px;margin-left:-15px;margin-top:-3.50px">***</div>
<div class="c" style="left:227.750px;top:407.630px;width:16.875px;height:18.260px;background:#daebf4"></div>
<div class="n d" style="left:236.19px;top:417.56px;width:30px;margin-left:-15px;margin-top:-3.60px">0.12</div>
<div class="s" style="left:236.19px;top:412.66px;width:30px;margin-left:-15px;margin-top:-3.50px">***</div>
<div class="c" style="left:244.625px;top:407.630px;width:16.875px;height:18.260px;background:#93cfe4"></div>
<div class="n d" style="left:253.06px;top:417.56px;width:30px;margin-left:-15px;margin-top:-3.60px">0.33</div>
<div class="s" style="left:253.06px;top:412.66px;width:30px;margin-left:-15px;margin-top:-3.50px">***</div>
<div class="c" style="left:261.500px;top:407.630px;width:16.875px;height:18.260px;background:#5cbbd9"></div>
<div class="n d" style="left:269.94px;top:417.56px;width:30px;margin-left:-15px;margin-top:-3.60px">0.44</div>
<div class="s" style="left:269.94px;top:412.66px;width:30px;margin-left:-15px;margin-top:-3.50px">***</div>
<div class="c" style="left:278.375px;top:407.630px;width:16.875px;height:18.260px;background:#0566ac"></div>
<div class="n w" style="left:286.81px;top:417.56px;width:30px;margin-left:-15px;margin-top:-3.60px">0.80</div>
<div class="s w" style="left:286.81px;top:412.66px;width:30px;margin-left:-15px;margin-top:-3.50px">***</div>
<div class="c" style="left:295.250px;top:407.630px;width:16.875px;height:18.260px;background:#0478ba"></div>
<div class="n w" style="left:303.69px;top:417.56px;width:30px;margin-left:-15px;margin-top:-3.60px">0.72</div>
<div class="s w" style="left:303.69px;top:412.66px;width:30px;margin-left:-15px;margin-top:-3.50px">***</div>
<div class="c" style="left:312.125px;top:407.630px;width:16.875px;height:18.260px;background:#049fcf"></div>
<div class="n w" style="left:320.56px;top:417.56px;width:30px;margin-left:-15px;margin-top:-3.60px">0.55</div>
<div class="s w" style="left:320.56px;top:412.66px;width:30px;margin-left:-15px;margin-top:-3.50px">***</div>
<div class="c" style="left:329.000px;top:407.630px;width:16.875px;height:18.260px;background:#faeae4"></div>
<div class="n d" style="left:337.44px;top:417.56px;width:30px;margin-left:-15px;margin-top:-3.60px">−0.08</div>
<div class="s" style="left:337.44px;top:412.66px;width:30px;margin-left:-15px;margin-top:-3.50px">***</div>
<div class="c" style="left:345.875px;top:407.630px;width:16.875px;height:18.260px;background:#f8eeeb"></div>
<div class="n d" style="left:354.31px;top:417.56px;width:30px;margin-left:-15px;margin-top:-3.60px">−0.05</div>
<div class="s" style="left:354.31px;top:412.66px;width:30px;margin-left:-15px;margin-top:-3.50px">**</div>
<div class="c" style="left:362.750px;top:407.630px;width:16.875px;height:18.260px;background:#fdd8c5"></div>
<div class="n d" style="left:371.19px;top:417.56px;width:30px;margin-left:-15px;margin-top:-3.60px">−0.20</div>
<div class="s" style="left:371.19px;top:412.66px;width:30px;margin-left:-15px;margin-top:-3.50px">***</div>
<div class="c" style="left:379.625px;top:407.630px;width:16.875px;height:18.260px;background:#f8eeeb"></div>
<div class="n d" style="left:388.06px;top:417.56px;width:30px;margin-left:-15px;margin-top:-3.60px">−0.05</div>
<div class="s" style="left:388.06px;top:412.66px;width:30px;margin-left:-15px;margin-top:-3.50px">*</div>
<div class="c" style="left:396.500px;top:407.630px;width:16.875px;height:18.260px;background:#68c1dc"></div>
<div class="n d" style="left:404.94px;top:417.56px;width:30px;margin-left:-15px;margin-top:-3.60px">0.42</div>
<div class="s" style="left:404.94px;top:412.66px;width:30px;margin-left:-15px;margin-top:-3.50px">***</div>
<div class="c" style="left:413.375px;top:407.630px;width:16.875px;height:18.260px;background:#fde0d3"></div>
<div class="n d" style="left:421.81px;top:417.56px;width:30px;margin-left:-15px;margin-top:-3.60px">−0.15</div>
<div class="s" style="left:421.81px;top:412.66px;width:30px;margin-left:-15px;margin-top:-3.50px">***</div>
<div class="c" style="left:430.250px;top:407.630px;width:16.875px;height:18.260px;background:#033068"></div>
<div class="n w" style="left:438.69px;top:417.56px;width:30px;margin-left:-15px;margin-top:-3.60px">1.00</div>
<div class="c" style="left:59.000px;top:425.890px;width:16.875px;height:18.260px;background:#bee0ee"></div>
<div class="n d" style="left:67.44px;top:435.82px;width:30px;margin-left:-15px;margin-top:-3.60px">0.22</div>
<div class="s" style="left:67.44px;top:430.92px;width:30px;margin-left:-15px;margin-top:-3.50px">***</div>
<div class="c" style="left:75.875px;top:425.890px;width:16.875px;height:18.260px;background:#bbdeed"></div>
<div class="n d" style="left:84.31px;top:435.82px;width:30px;margin-left:-15px;margin-top:-3.60px">0.23</div>
<div class="s" style="left:84.31px;top:430.92px;width:30px;margin-left:-15px;margin-top:-3.50px">***</div>
<div class="c" style="left:92.750px;top:425.890px;width:16.875px;height:18.260px;background:#bbdeed"></div>
<div class="n d" style="left:101.19px;top:435.82px;width:30px;margin-left:-15px;margin-top:-3.60px">0.23</div>
<div class="s" style="left:101.19px;top:430.92px;width:30px;margin-left:-15px;margin-top:-3.50px">***</div>
<div class="c" style="left:109.625px;top:425.890px;width:16.875px;height:18.260px;background:#c0e1ef"></div>
<div class="n d" style="left:118.06px;top:435.82px;width:30px;margin-left:-15px;margin-top:-3.60px">0.21</div>
<div class="s" style="left:118.06px;top:430.92px;width:30px;margin-left:-15px;margin-top:-3.50px">***</div>
<div class="c" style="left:126.500px;top:425.890px;width:16.875px;height:18.260px;background:#cfe7f2"></div>
<div class="n d" style="left:134.94px;top:435.82px;width:30px;margin-left:-15px;margin-top:-3.60px">0.16</div>
<div class="s" style="left:134.94px;top:430.92px;width:30px;margin-left:-15px;margin-top:-3.50px">***</div>
<div class="c" style="left:143.375px;top:425.890px;width:16.875px;height:18.260px;background:#daebf4"></div>
<div class="n d" style="left:151.81px;top:435.82px;width:30px;margin-left:-15px;margin-top:-3.60px">0.12</div>
<div class="s" style="left:151.81px;top:430.92px;width:30px;margin-left:-15px;margin-top:-3.50px">***</div>
<div class="c" style="left:160.250px;top:425.890px;width:16.875px;height:18.260px;background:#f5f2f1"></div>
<div class="n d" style="left:168.69px;top:435.82px;width:30px;margin-left:-15px;margin-top:-3.60px">−0.02</div>
<div class="c" style="left:177.125px;top:425.890px;width:16.875px;height:18.260px;background:#deedf4"></div>
<div class="n d" style="left:185.56px;top:435.82px;width:30px;margin-left:-15px;margin-top:-3.60px">0.10</div>
<div class="s" style="left:185.56px;top:430.92px;width:30px;margin-left:-15px;margin-top:-3.50px">***</div>
<div class="c" style="left:194.000px;top:425.890px;width:16.875px;height:18.260px;background:#deedf4"></div>
<div class="n d" style="left:202.44px;top:435.82px;width:30px;margin-left:-15px;margin-top:-3.60px">0.10</div>
<div class="s" style="left:202.44px;top:430.92px;width:30px;margin-left:-15px;margin-top:-3.50px">***</div>
<div class="c" style="left:210.875px;top:425.890px;width:16.875px;height:18.260px;background:#fdcdb4"></div>
<div class="n d" style="left:219.31px;top:435.82px;width:30px;margin-left:-15px;margin-top:-3.60px">−0.26</div>
<div class="s" style="left:219.31px;top:430.92px;width:30px;margin-left:-15px;margin-top:-3.50px">***</div>
<div class="c" style="left:227.750px;top:425.890px;width:16.875px;height:18.260px;background:#c0e1ef"></div>
<div class="n d" style="left:236.19px;top:435.82px;width:30px;margin-left:-15px;margin-top:-3.60px">0.21</div>
<div class="s" style="left:236.19px;top:430.92px;width:30px;margin-left:-15px;margin-top:-3.50px">***</div>
<div class="c" style="left:244.625px;top:425.890px;width:16.875px;height:18.260px;background:#b8dded"></div>
<div class="n d" style="left:253.06px;top:435.82px;width:30px;margin-left:-15px;margin-top:-3.60px">0.24</div>
<div class="s" style="left:253.06px;top:430.92px;width:30px;margin-left:-15px;margin-top:-3.50px">***</div>
<div class="c" style="left:261.500px;top:425.890px;width:16.875px;height:18.260px;background:#97d1e5"></div>
<div class="n d" style="left:269.94px;top:435.82px;width:30px;margin-left:-15px;margin-top:-3.60px">0.32</div>
<div class="s" style="left:269.94px;top:430.92px;width:30px;margin-left:-15px;margin-top:-3.50px">***</div>
<div class="c" style="left:278.375px;top:425.890px;width:16.875px;height:18.260px;background:#7dc7e0"></div>
<div class="n d" style="left:286.81px;top:435.82px;width:30px;margin-left:-15px;margin-top:-3.60px">0.38</div>
<div class="s" style="left:286.81px;top:430.92px;width:30px;margin-left:-15px;margin-top:-3.50px">***</div>
<div class="c" style="left:295.250px;top:425.890px;width:16.875px;height:18.260px;background:#82c9e0"></div>
<div class="n d" style="left:303.69px;top:435.82px;width:30px;margin-left:-15px;margin-top:-3.60px">0.37</div>
<div class="s" style="left:303.69px;top:430.92px;width:30px;margin-left:-15px;margin-top:-3.50px">***</div>
<div class="c" style="left:312.125px;top:425.890px;width:16.875px;height:18.260px;background:#8ecde3"></div>
<div class="n d" style="left:320.56px;top:435.82px;width:30px;margin-left:-15px;margin-top:-3.60px">0.34</div>
<div class="s" style="left:320.56px;top:430.92px;width:30px;margin-left:-15px;margin-top:-3.50px">***</div>
<div class="c" style="left:329.000px;top:425.890px;width:16.875px;height:18.260px;background:#fdd3be"></div>
<div class="n d" style="left:337.44px;top:435.82px;width:30px;margin-left:-15px;margin-top:-3.60px">−0.23</div>
<div class="s" style="left:337.44px;top:430.92px;width:30px;margin-left:-15px;margin-top:-3.50px">***</div>
<div class="c" style="left:345.875px;top:425.890px;width:16.875px;height:18.260px;background:#fde3d9"></div>
<div class="n d" style="left:354.31px;top:435.82px;width:30px;margin-left:-15px;margin-top:-3.60px">−0.13</div>
<div class="s" style="left:354.31px;top:430.92px;width:30px;margin-left:-15px;margin-top:-3.50px">***</div>
<div class="c" style="left:362.750px;top:425.890px;width:16.875px;height:18.260px;background:#fde3d9"></div>
<div class="n d" style="left:371.19px;top:435.82px;width:30px;margin-left:-15px;margin-top:-3.60px">−0.13</div>
<div class="s" style="left:371.19px;top:430.92px;width:30px;margin-left:-15px;margin-top:-3.50px">***</div>
<div class="c" style="left:379.625px;top:425.890px;width:16.875px;height:18.260px;background:#f5f4f4"></div>
<div class="n d" style="left:388.06px;top:435.82px;width:30px;margin-left:-15px;margin-top:-3.60px">−0.01</div>
<div class="c" style="left:396.500px;top:425.890px;width:16.875px;height:18.260px;background:#a8d7e9"></div>
<div class="n d" style="left:404.94px;top:435.82px;width:30px;margin-left:-15px;margin-top:-3.60px">0.28</div>
<div class="s" style="left:404.94px;top:430.92px;width:30px;margin-left:-15px;margin-top:-3.50px">***</div>
<div class="c" style="left:413.375px;top:425.890px;width:16.875px;height:18.260px;background:#fdd3be"></div>
<div class="n d" style="left:421.81px;top:435.82px;width:30px;margin-left:-15px;margin-top:-3.60px">−0.23</div>
<div class="s" style="left:421.81px;top:430.92px;width:30px;margin-left:-15px;margin-top:-3.50px">***</div>
<div class="c" style="left:430.250px;top:425.890px;width:16.875px;height:18.260px;background:#56b7d8"></div>
<div class="n d" style="left:438.69px;top:435.82px;width:30px;margin-left:-15px;margin-top:-3.60px">0.45</div>
<div class="s" style="left:438.69px;top:430.92px;width:30px;margin-left:-15px;margin-top:-3.50px">***</div>
<div class="c" style="left:447.125px;top:425.890px;width:16.875px;height:18.260px;background:#033068"></div>
<div class="n w" style="left:455.56px;top:435.82px;width:30px;margin-left:-15px;margin-top:-3.60px">1.00</div>
<div class="yl" style="top:15.04px;margin-top:-3.73px">SM_CCI</div>
<div class="yl" style="top:33.30px;margin-top:-3.73px">SM_CABLE</div>
<div class="yl" style="top:51.56px;margin-top:-3.73px">NOAH_PA_10</div>
<div class="yl" style="top:69.82px;margin-top:-3.73px">NOAH_PA_40</div>
<div class="yl" style="top:88.08px;margin-top:-3.73px">NOAH_PA_100</div>
<div class="yl" style="top:106.34px;margin-top:-3.73px">VIC_PA_root</div>
<div class="yl" style="top:124.60px;margin-top:-3.73px">VIC_PA_30</div>
<div class="yl" style="top:142.86px;margin-top:-3.73px">VIC_PA_d2</div>
<div class="yl" style="top:161.12px;margin-top:-3.73px">VIC_PA_d3</div>
<div class="yl" style="top:179.38px;margin-top:-3.73px">TVDI</div>
<div class="yl" style="top:197.64px;margin-top:-3.73px">VCI</div>
<div class="yl" style="top:215.90px;margin-top:-3.73px">TCI</div>
<div class="yl" style="top:234.16px;margin-top:-3.73px">SPI1</div>
<div class="yl" style="top:252.42px;margin-top:-3.73px">SPI3</div>
<div class="yl" style="top:270.68px;margin-top:-3.73px">SPI6</div>
<div class="yl" style="top:288.94px;margin-top:-3.73px">SPI9</div>
<div class="yl" style="top:307.20px;margin-top:-3.73px">DNR</div>
<div class="yl" style="top:325.46px;margin-top:-3.73px">DNR_Max</div>
<div class="yl" style="top:343.72px;margin-top:-3.73px">TA</div>
<div class="yl" style="top:361.98px;margin-top:-3.73px">WSA</div>
<div class="yl" style="top:380.24px;margin-top:-3.73px">RHA</div>
<div class="yl" style="top:398.50px;margin-top:-3.73px">SHA</div>
<div class="yl" style="top:416.76px;margin-top:-3.73px">MCI</div>
<div class="yl" style="top:435.02px;margin-top:-3.73px">RSM_10</div>
<div class="xl" style="left:67.94px;top:450.00px;margin-left:-3.73px">SM_CCI</div>
<div class="xl" style="left:84.81px;top:450.00px;margin-left:-3.73px">SM_CABLE</div>
<div class="xl" style="left:101.69px;top:450.00px;margin-left:-3.73px">NOAH_PA_10</div>
<div class="xl" style="left:118.56px;top:450.00px;margin-left:-3.73px">NOAH_PA_40</div>
<div class="xl" style="left:135.44px;top:450.00px;margin-left:-3.73px">NOAH_PA_100</div>
<div class="xl" style="left:152.31px;top:450.00px;margin-left:-3.73px">VIC_PA_root</div>
<div class="xl" style="left:169.19px;top:450.00px;margin-left:-3.73px">VIC_PA_30</div>
<div class="xl" style="left:186.06px;top:450.00px;margin-left:-3.73px">VIC_PA_d2</div>
<div class="xl" style="left:202.94px;top:450.00px;margin-left:-3.73px">VIC_PA_d3</div>
<div class="xl" style="left:219.81px;top:450.00px;margin-left:-3.73px">TVDI</div>
<div class="xl" style="left:236.69px;top:450.00px;margin-left:-3.73px">VCI</div>
<div class="xl" style="left:253.56px;top:450.00px;margin-left:-3.73px">TCI</div>
<div class="xl" style="left:270.44px;top:450.00px;margin-left:-3.73px">SPI1</div>
<div class="xl" style="left:287.31px;top:450.00px;margin-left:-3.73px">SPI3</div>
<div class="xl" style="left:304.19px;top:450.00px;margin-left:-3.73px">SPI6</div>
<div class="xl" style="left:321.06px;top:450.00px;margin-left:-3.73px">SPI9</div>
<div class="xl" style="left:337.94px;top:450.00px;margin-left:-3.73px">DNR</div>
<div class="xl" style="left:354.81px;top:450.00px;margin-left:-3.73px">DNR_Max</div>
<div class="xl" style="left:371.69px;top:450.00px;margin-left:-3.73px">TA</div>
<div class="xl" style="left:388.56px;top:450.00px;margin-left:-3.73px">WSA</div>
<div class="xl" style="left:405.44px;top:450.00px;margin-left:-3.73px">RHA</div>
<div class="xl" style="left:422.31px;top:450.00px;margin-left:-3.73px">SHA</div>
<div class="xl" style="left:439.19px;top:450.00px;margin-left:-3.73px">MCI</div>
<div class="xl" style="left:456.06px;top:450.00px;margin-left:-3.73px">RSM_10</div>
<div class="c" style="left:489.00px;top:5.91px;width:21.60px;height:438.40px;background:linear-gradient(to bottom,#033068 0.00%,#043a75 1.56%,#044482 3.12%,#054e90 4.69%,#05579b 6.25%,#055da2 7.81%,#0563a9 9.38%,#0569b0 10.94%,#0570b8 12.50%,#0478ba 14.06%,#0281bb 15.62%,#0387bf 17.19%,#058ec4 18.75%,#0495c7 20.31%,#039ccc 21.88%,#14a5d1 23.44%,#2facd4 25.00%,#48b2d6 26.56%,#5ebbda 28.12%,#6fc3dd 29.69%,#7fc8e0 31.25%,#8dcde3 32.81%,#9ad2e6 34.38%,#a7d7e9 35.94%,#b4dcec 37.50%,#bee0ee 39.06%,#c7e3f0 40.62%,#d0e7f2 42.19%,#d9ebf4 43.75%,#e0edf4 45.31%,#e6f0f5 46.88%,#edf2f5 48.44%,#f4f5f6 50.00%,#f6f1ef 51.56%,#f8ede8 53.12%,#fbe8e1 54.69%,#fde4da 56.25%,#fddfd2 57.81%,#fddac9 59.38%,#fdd5c1 60.94%,#fdd0b8 62.50%,#fdc8ae 64.06%,#fdc0a3 65.62%,#feb899 67.19%,#feb08e 68.75%,#fea483 70.31%,#ff9877 71.88%,#ff8d6e 73.44%,#fe8266 75.00%,#fe795f 76.56%,#fc6f57 78.12%,#f56450 79.69%,#ef5848 81.25%,#e94942 82.81%,#e33a3b 84.38%,#df2f36 85.94%,#da2430 87.50%,#d11b2a 89.06%,#c81224 90.62%,#bc0c24 92.19%,#b00624 93.75%,#a50523 95.31%,#990321 96.88%,#8e0220 98.44%,#82001e 100.00%)"></div>
<div class="tk" style="left:510.60px;top:5.26px;width:5.60px"></div>
<div class="cl" style="left:521.20px;top:6.91px;margin-top:-3.60px">1.00</div>
<div class="tk" style="left:510.60px;top:60.06px;width:5.60px"></div>
<div class="cl" style="left:521.20px;top:61.71px;margin-top:-3.60px">0.75</div>
<div class="tk" style="left:510.60px;top:114.86px;width:5.60px"></div>
<div class="cl" style="left:521.20px;top:116.51px;margin-top:-3.60px">0.50</div>
<div class="tk" style="left:510.60px;top:169.66px;width:5.60px"></div>
<div class="cl" style="left:521.20px;top:171.31px;margin-top:-3.60px">0.25</div>
<div class="tk" style="left:510.60px;top:224.46px;width:5.60px"></div>
<div class="cl" style="left:521.20px;top:226.11px;margin-top:-3.60px">0.00</div>
<div class="tk" style="left:510.60px;top:279.26px;width:5.60px"></div>
<div class="cl" style="left:521.20px;top:280.91px;margin-top:-3.60px">−0.25</div>
<div class="tk" style="left:510.60px;top:334.06px;width:5.60px"></div>
<div class="cl" style="left:521.20px;top:335.71px;margin-top:-3.60px">−0.50</div>
<div class="tk" style="left:510.60px;top:388.86px;width:5.60px"></div>
<div class="cl" style="left:521.20px;top:390.51px;margin-top:-3.60px">−0.75</div>
<div class="tk" style="left:510.60px;top:443.66px;width:5.60px"></div>
<div class="cl" style="left:521.20px;top:445.31px;margin-top:-3.60px">−1.00</div>
</body></html>
